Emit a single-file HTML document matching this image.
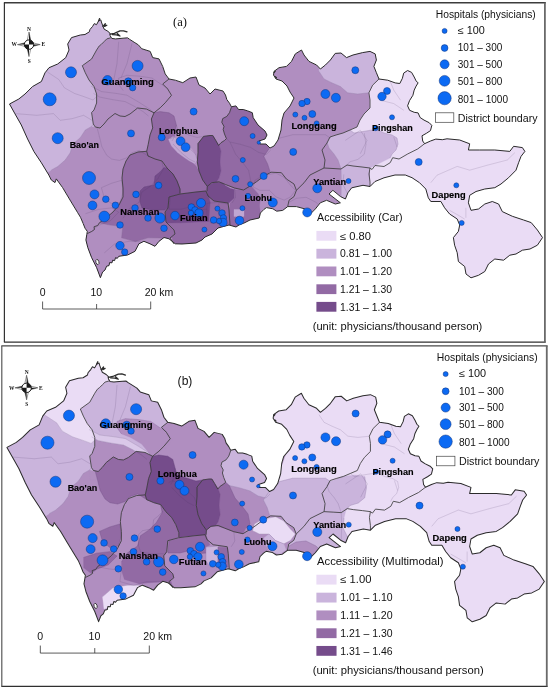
<!DOCTYPE html>
<html><head><meta charset="utf-8"><title>Accessibility maps</title>
<style>
html,body{margin:0;padding:0;background:#fff;}
svg{display:block}
text{font-family:"Liberation Sans",sans-serif;fill:#111}
.lb{font-weight:bold;font-size:9.6px;fill:#000;stroke:#000;stroke-width:0.15px}
.lg{font-size:10px}
.sb{font-size:10.5px}
.cp{font-family:"Liberation Serif",serif;font-size:5.4px;font-weight:bold}
.pl{font-family:"Liberation Serif",serif;font-size:12.6px}
.pl2{font-size:12px}
</style></head><body>
<svg width="550" height="689" viewBox="0 0 550 689">
<rect width="550" height="689" fill="#fff"/>
<g>
<rect x="4.4" y="2.8" width="540.5" height="339.3" fill="#fff"/>
<line x1="3.9000000000000004" y1="2.8" x2="545.8" y2="2.8" stroke="#3c3c3c" stroke-width="1.4"/>
<line x1="3.9000000000000004" y1="342.1" x2="545.8" y2="342.1" stroke="#303030" stroke-width="1.3"/>
<line x1="4.4" y1="2.8" x2="4.4" y2="342.1" stroke="#333" stroke-width="1.2"/>
<line x1="544.9" y1="2.8" x2="544.9" y2="342.1" stroke="#6a6a6a" stroke-width="1.8"/>
<clipPath id="clipa"><polygon points="9.5,104.0 18.8,99.0 25.0,94.0 32.6,86.5 41.4,81.5 45.0,72.8 49.0,67.7 57.7,64.0 65.7,57.7 69.0,50.0 67.7,44.0 71.5,37.6 80.3,35.0 85.0,34.5 89.4,31.8 89.9,29.6 92.6,26.4 94.3,23.6 96.5,24.7 98.6,20.9 100.8,19.8 101.4,22.0 103.0,26.4 104.1,29.1 107.9,31.3 110.1,33.4 110.1,35.6 111.7,38.4 115.5,38.9 121.0,38.4 127.5,37.8 129.7,39.4 134.1,42.2 138.4,44.9 141.7,48.7 150.2,51.4 152.7,57.6 159.0,58.9 162.7,66.4 165.2,73.9 169.0,79.0 175.3,80.2 182.8,82.7 190.0,78.0 196.0,77.0 199.0,85.0 205.0,88.0 210.0,94.0 215.0,89.0 223.0,91.0 225.5,95.0 226.8,99.5 229.5,103.2 231.4,106.8 235.9,105.9 238.6,109.5 243.2,109.5 247.7,110.9 252.3,112.7 253.2,117.7 258.0,125.0 265.0,131.0 267.0,135.0 265.0,139.0 259.0,141.0 260.0,144.0 266.0,144.0 270.0,148.0 274.0,146.0 278.0,140.0 281.0,130.0 282.0,120.0 284.0,113.0 290.0,106.0 294.0,98.0 290.0,92.0 287.0,86.0 282.0,81.0 276.0,79.0 273.5,75.0 274.0,71.4 279.0,67.7 286.5,66.4 291.5,61.4 295.3,53.9 301.5,50.0 304.0,55.0 309.0,61.4 316.6,65.0 320.4,69.0 325.4,65.0 330.4,60.0 335.2,53.4 341.0,53.0 346.5,57.6 353.0,55.0 362.6,52.6 370.0,51.4 375.2,53.9 376.4,60.0 373.9,66.4 376.4,72.7 379.0,79.0 387.7,80.2 395.2,82.9 399.8,83.5 402.4,78.3 403.7,73.1 407.6,70.5 411.6,72.4 414.2,77.0 416.1,80.9 418.1,82.9 416.1,86.1 414.2,90.1 412.9,95.3 409.6,100.5 407.6,105.8 409.6,110.3 414.2,112.3 418.1,112.9 420.1,117.5 424.0,120.1 429.2,122.7 431.8,125.4 430.5,130.6 426.6,133.2 422.0,135.8 422.7,141.0 424.6,143.7 430.5,141.0 435.8,139.1 442.3,139.7 447.0,138.8 459.7,140.0 469.7,143.8 468.4,150.0 479.7,150.0 494.8,150.0 509.8,151.4 513.6,146.3 522.4,147.6 524.9,151.4 521.0,156.4 518.6,162.7 516.0,170.2 508.6,177.7 501.0,184.0 494.8,187.7 484.8,189.0 476.0,191.5 469.7,195.3 468.4,202.8 471.0,210.3 478.5,209.0 484.8,204.0 492.3,201.5 498.6,204.0 502.3,211.6 512.4,216.3 523.6,220.0 531.2,222.6 537.4,230.0 542.5,237.6 537.4,245.2 530.0,249.0 522.4,250.2 516.0,254.0 509.8,255.2 503.6,260.2 494.8,259.0 488.5,264.0 484.8,271.5 478.5,275.3 471.0,277.8 466.0,274.0 464.7,266.5 458.4,261.5 457.2,252.7 454.6,245.2 453.4,237.6 458.4,231.4 459.7,225.0 457.2,219.0 449.6,214.0 444.6,207.8 440.9,201.5 430.8,201.5 428.3,197.8 425.8,189.0 419.5,182.7 412.0,177.7 405.3,175.0 395.0,175.0 384.0,177.8 375.0,181.5 370.0,186.5 363.0,185.3 351.7,187.8 347.9,192.8 345.4,199.0 340.4,196.5 332.9,190.3 329.0,194.0 340.4,202.8 335.3,204.0 326.6,200.3 320.3,202.8 315.3,209.0 309.0,215.4 305.2,209.0 296.4,206.6 287.7,206.6 282.7,210.4 276.7,211.2 272.9,208.8 266.5,207.6 264.0,209.3 260.4,213.0 259.2,218.0 250.0,220.0 243.6,223.3 240.0,224.4 236.0,227.0 229.0,225.0 218.0,228.0 212.0,234.0 205.0,237.0 202.0,240.0 196.0,243.0 182.0,244.0 175.3,243.8 169.0,238.8 164.0,237.5 159.0,241.3 155.0,246.3 150.0,243.8 143.9,241.3 138.9,243.8 135.0,251.3 127.6,255.0 118.8,256.3 117.2,258.4 115.6,257.6 114.6,260.6 112.6,260.2 112.0,262.8 109.6,262.6 109.0,265.6 106.6,266.2 105.0,270.0 102.6,272.0 100.4,277.7 96.6,267.6 91.6,257.6 87.8,247.6 85.9,240.0 86.8,234.5 87.3,231.4 85.0,228.2 83.2,223.6 80.5,217.3 77.7,212.7 70.0,200.0 62.6,187.6 56.3,178.9 55.0,182.6 51.3,180.0 48.8,175.0 41.4,162.8 33.9,151.5 27.6,139.0 21.3,125.0 15.0,113.9"/></clipPath>
<g clip-path="url(#clipa)">
<polygon points="9.5,104.0 18.8,99.0 25.0,94.0 32.6,86.5 41.4,81.5 45.0,72.8 49.0,67.7 57.7,64.0 65.7,57.7 69.0,50.0 67.7,44.0 71.5,37.6 80.3,35.0 85.0,34.5 89.4,31.8 89.9,29.6 92.6,26.4 94.3,23.6 96.5,24.7 98.6,20.9 100.8,19.8 101.4,22.0 103.0,26.4 104.1,29.1 107.9,31.3 110.1,33.4 110.1,35.6 111.7,38.4 115.5,38.9 121.0,38.4 127.5,37.8 129.7,39.4 134.1,42.2 138.4,44.9 141.7,48.7 150.2,51.4 152.7,57.6 159.0,58.9 162.7,66.4 165.2,73.9 169.0,79.0 175.3,80.2 182.8,82.7 190.0,78.0 196.0,77.0 199.0,85.0 205.0,88.0 210.0,94.0 215.0,89.0 223.0,91.0 225.5,95.0 226.8,99.5 229.5,103.2 231.4,106.8 235.9,105.9 238.6,109.5 243.2,109.5 247.7,110.9 252.3,112.7 253.2,117.7 258.0,125.0 265.0,131.0 267.0,135.0 265.0,139.0 259.0,141.0 260.0,144.0 266.0,144.0 270.0,148.0 274.0,146.0 278.0,140.0 281.0,130.0 282.0,120.0 284.0,113.0 290.0,106.0 294.0,98.0 290.0,92.0 287.0,86.0 282.0,81.0 276.0,79.0 273.5,75.0 274.0,71.4 279.0,67.7 286.5,66.4 291.5,61.4 295.3,53.9 301.5,50.0 304.0,55.0 309.0,61.4 316.6,65.0 320.4,69.0 325.4,65.0 330.4,60.0 335.2,53.4 341.0,53.0 346.5,57.6 353.0,55.0 362.6,52.6 370.0,51.4 375.2,53.9 376.4,60.0 373.9,66.4 376.4,72.7 379.0,79.0 387.7,80.2 395.2,82.9 399.8,83.5 402.4,78.3 403.7,73.1 407.6,70.5 411.6,72.4 414.2,77.0 416.1,80.9 418.1,82.9 416.1,86.1 414.2,90.1 412.9,95.3 409.6,100.5 407.6,105.8 409.6,110.3 414.2,112.3 418.1,112.9 420.1,117.5 424.0,120.1 429.2,122.7 431.8,125.4 430.5,130.6 426.6,133.2 422.0,135.8 422.7,141.0 424.6,143.7 430.5,141.0 435.8,139.1 442.3,139.7 447.0,138.8 459.7,140.0 469.7,143.8 468.4,150.0 479.7,150.0 494.8,150.0 509.8,151.4 513.6,146.3 522.4,147.6 524.9,151.4 521.0,156.4 518.6,162.7 516.0,170.2 508.6,177.7 501.0,184.0 494.8,187.7 484.8,189.0 476.0,191.5 469.7,195.3 468.4,202.8 471.0,210.3 478.5,209.0 484.8,204.0 492.3,201.5 498.6,204.0 502.3,211.6 512.4,216.3 523.6,220.0 531.2,222.6 537.4,230.0 542.5,237.6 537.4,245.2 530.0,249.0 522.4,250.2 516.0,254.0 509.8,255.2 503.6,260.2 494.8,259.0 488.5,264.0 484.8,271.5 478.5,275.3 471.0,277.8 466.0,274.0 464.7,266.5 458.4,261.5 457.2,252.7 454.6,245.2 453.4,237.6 458.4,231.4 459.7,225.0 457.2,219.0 449.6,214.0 444.6,207.8 440.9,201.5 430.8,201.5 428.3,197.8 425.8,189.0 419.5,182.7 412.0,177.7 405.3,175.0 395.0,175.0 384.0,177.8 375.0,181.5 370.0,186.5 363.0,185.3 351.7,187.8 347.9,192.8 345.4,199.0 340.4,196.5 332.9,190.3 329.0,194.0 340.4,202.8 335.3,204.0 326.6,200.3 320.3,202.8 315.3,209.0 309.0,215.4 305.2,209.0 296.4,206.6 287.7,206.6 282.7,210.4 276.7,211.2 272.9,208.8 266.5,207.6 264.0,209.3 260.4,213.0 259.2,218.0 250.0,220.0 243.6,223.3 240.0,224.4 236.0,227.0 229.0,225.0 218.0,228.0 212.0,234.0 205.0,237.0 202.0,240.0 196.0,243.0 182.0,244.0 175.3,243.8 169.0,238.8 164.0,237.5 159.0,241.3 155.0,246.3 150.0,243.8 143.9,241.3 138.9,243.8 135.0,251.3 127.6,255.0 118.8,256.3 117.2,258.4 115.6,257.6 114.6,260.6 112.6,260.2 112.0,262.8 109.6,262.6 109.0,265.6 106.6,266.2 105.0,270.0 102.6,272.0 100.4,277.7 96.6,267.6 91.6,257.6 87.8,247.6 85.9,240.0 86.8,234.5 87.3,231.4 85.0,228.2 83.2,223.6 80.5,217.3 77.7,212.7 70.0,200.0 62.6,187.6 56.3,178.9 55.0,182.6 51.3,180.0 48.8,175.0 41.4,162.8 33.9,151.5 27.6,139.0 21.3,125.0 15.0,113.9" fill="#B08EC0"/>
<polygon points="0.0,15.0 110.6,15.0 110.6,37.8 106.8,38.9 104.1,41.6 101.4,44.3 99.2,46.0 96.6,50.0 91.6,59.0 82.3,65.7 85.3,72.8 89.0,80.0 94.0,86.5 96.6,94.0 96.6,103.0 94.0,110.0 91.6,112.6 93.3,124.0 95.3,127.0 91.6,126.4 85.3,130.0 80.3,137.7 72.8,144.0 70.2,152.8 65.2,160.0 57.7,166.6 51.4,170.0 40.0,178.0 0.0,178.0" fill="#CAB4DC" stroke="#CAB4DC" stroke-width="0.3"/>
<polygon points="154.0,112.8 160.0,111.6 169.0,112.8 174.0,116.0 176.4,125.0 174.0,137.6 172.0,141.0 182.0,152.0 190.0,160.0 196.0,166.0 199.0,171.0 202.7,180.0 207.3,186.4 207.0,191.5 196.0,192.0 180.0,193.5 180.0,193.5 180.0,189.0 177.0,181.0 173.0,174.0 167.0,168.0 162.0,161.0 155.0,159.0 148.0,156.0 146.7,151.3 146.7,151.3 148.2,144.5 150.0,135.0 152.7,127.9 151.4,119.0 154.0,112.8" fill="#926AA4" stroke="#926AA4" stroke-width="0.3"/>
<polygon points="168.5,139.5 173.0,136.5 179.5,138.5 187.0,143.5 192.0,149.5 196.0,155.5 197.0,161.0 194.5,163.5 189.5,161.0 183.5,157.0 177.5,152.5 171.5,146.0" fill="#C0A6D2" stroke="#C0A6D2" stroke-width="0.3"/>
<polygon points="231.4,100.0 231.4,107.3 229.5,112.7 226.8,116.4 222.7,118.6 221.8,122.3 224.0,126.4 223.2,129.5 224.5,134.0 226.4,138.6 224.5,140.5 221.0,142.7 218.6,145.5 221.0,151.0 220.0,162.0 221.0,171.0 219.0,178.0 216.4,182.0 225.5,184.5 234.5,188.0 243.6,190.0 251.0,185.5 256.4,181.8 263.6,176.4 268.0,174.0 270.0,171.5 267.6,164.0 263.8,156.4 268.9,148.9 268.0,100.0" fill="#926AA4" stroke="#926AA4" stroke-width="0.3"/>
<polygon points="203.6,136.4 210.0,135.5 213.0,135.5 215.5,140.0 219.0,145.5 221.0,151.0 220.0,162.0 221.0,171.0 219.0,178.0 216.4,182.0 212.0,182.7 207.3,186.4 202.7,180.0 199.0,171.0 197.3,162.0 198.0,152.7 198.0,143.6" fill="#754C8B" stroke="#754C8B" stroke-width="0.3"/>
<polygon points="207.3,186.4 211.5,183.5 216.9,182.0 222.4,183.0 226.0,186.0 230.5,188.5 234.5,189.5 234.5,198.0 230.5,201.5 228.7,203.3 222.4,203.0 214.0,201.0 208.0,196.0 207.0,191.0" fill="#754C8B" stroke="#754C8B" stroke-width="0.3"/>
<polygon points="169.0,197.0 180.0,194.0 196.0,192.0 206.0,191.0 208.0,196.0 214.0,201.0 228.0,203.0 229.0,210.0 230.0,225.0 230.0,255.0 170.0,255.0 174.0,244.0 170.0,238.0 175.0,234.0 174.0,230.0 166.0,222.0 165.0,212.0 168.0,208.0 169.0,197.0" fill="#926AA4" stroke="#926AA4" stroke-width="0.3"/>
<polygon points="169.0,197.0 180.0,194.0 196.0,192.0 206.0,191.0 208.7,196.6 210.2,202.5 209.5,209.7 208.7,221.4 196.4,222.0 180.4,222.8 166.0,223.0 165.0,212.0 168.0,208.0" fill="#754C8B" stroke="#754C8B" stroke-width="0.3"/>
<polygon points="87.3,233.6 91.8,231.4 94.5,229.5 94.0,226.8 97.7,225.5 99.5,222.7 106.0,218.0 113.0,212.0 119.0,205.0 123.0,197.0 123.0,188.0 122.0,178.0 123.0,169.0 126.0,161.0 130.0,155.0 138.0,152.0 146.7,151.3 148.0,156.0 155.0,159.0 162.0,161.0 167.0,168.0 173.0,174.0 177.0,181.0 180.0,189.0 180.0,193.5 169.0,197.0 168.0,208.0 165.0,212.0 166.0,222.0 174.0,230.0 175.0,234.0 170.0,238.0 174.0,244.0 174.0,290.0 80.0,290.0 80.0,234.0" fill="#926AA4" stroke="#926AA4" stroke-width="0.3"/>
<polygon points="164.0,167.5 167.0,168.0 173.0,174.0 177.0,181.0 180.0,189.0 180.0,193.5 169.0,197.0 168.0,208.0 165.0,210.0 152.0,210.0 142.0,208.0 140.0,202.0 140.0,191.0 144.0,187.0 154.0,185.0 155.0,176.0 160.0,172.0" fill="#754C8B" stroke="#754C8B" stroke-width="0.3"/>
<polygon points="80.0,234.0 87.3,233.6 91.8,231.4 94.5,229.5 94.0,226.8 97.7,225.5 99.5,223.0 110.0,225.0 122.8,226.5 121.6,237.8 135.4,241.6 148.0,237.8 160.0,238.0 172.0,238.0 174.0,290.0 80.0,290.0" fill="#B08EC0" stroke="#B08EC0" stroke-width="0.3"/>
<polygon points="230.0,203.0 234.5,198.0 234.5,189.5 243.6,190.0 251.0,185.5 253.8,188.9 258.3,194.0 260.2,200.4 259.5,205.4 260.2,211.8 259.5,222.0 230.0,232.0 229.0,210.0" fill="#926AA4" stroke="#926AA4" stroke-width="0.3"/>
<polygon points="234.0,209.5 244.0,209.5 244.0,216.5 234.0,216.5" fill="#C0A6D2" stroke="#C0A6D2" stroke-width="0.3"/>
<polygon points="319.0,45.0 319.0,71.4 324.0,79.0 331.6,82.7 340.4,86.5 347.6,92.8 357.6,94.0 368.9,92.8 372.6,85.2 379.0,79.0 385.0,45.0" fill="#CAB4DC" stroke="#CAB4DC" stroke-width="0.3"/>
<polygon points="379.0,79.0 372.6,85.2 368.9,92.8 370.0,100.0 370.0,108.0 364.0,114.0 360.0,120.0 357.0,127.0 350.0,130.0 350.0,130.0 350.0,172.0 370.0,168.0 370.0,186.5 365.0,210.0 440.0,300.0 550.0,300.0 550.0,40.0 379.0,40.0" fill="#EADCF5" stroke="#EADCF5" stroke-width="0.3"/>
<polygon points="330.0,137.0 336.0,135.0 343.0,133.0 350.0,130.0 354.0,133.0 360.0,132.0 366.0,131.0 372.0,130.0 378.0,130.0 384.0,133.0 392.0,135.0 397.0,138.0 398.0,144.0 396.0,150.0 392.0,154.0 390.0,158.0 386.0,160.0 378.0,164.0 370.0,168.0 369.0,174.0 370.0,182.0 370.0,186.5 372.0,205.0 341.0,210.0 341.0,169.0 340.0,166.0 338.0,160.0 334.0,154.0 329.0,148.0 327.0,142.0" fill="#CAB4DC" stroke="#CAB4DC" stroke-width="0.3"/>
<polyline points="47.4,72.0 58.8,79.5 64.4,87.8 74.4,93.4 85.0,97.0 93.0,100.0 96.8,96.5" fill="none" stroke="#4b3560" stroke-opacity="0.28" stroke-width="0.55" stroke-linejoin="round"/>
<polyline points="15.0,113.6 36.8,115.3 53.5,113.6 60.2,120.3 72.0,118.7 83.6,115.3 92.0,120.3" fill="none" stroke="#4b3560" stroke-opacity="0.28" stroke-width="0.55" stroke-linejoin="round"/>
<polyline points="93.3,124.0 91.6,126.4 85.3,130.0 80.3,137.7 72.8,144.0 70.2,152.8 65.2,160.0 57.7,166.6 51.4,170.0" fill="none" stroke="#4b3560" stroke-opacity="0.28" stroke-width="0.55" stroke-linejoin="round"/>
<polyline points="90.9,86.1 101.6,91.6 116.1,93.4 126.9,95.2 139.5,102.6 150.4,109.6 153.9,113.3" fill="none" stroke="#4b3560" stroke-opacity="0.28" stroke-width="0.55" stroke-linejoin="round"/>
<polyline points="93.5,93.4 99.8,97.1 112.4,99.6 125.1,101.6 134.0,106.1 143.1,111.6 148.4,116.0" fill="none" stroke="#4b3560" stroke-opacity="0.28" stroke-width="0.55" stroke-linejoin="round"/>
<polyline points="123.2,90.6 118.7,84.3 118.7,78.1 126.9,75.3 139.5,76.2 152.1,78.1 161.1,84.3 168.2,88.6" fill="none" stroke="#4b3560" stroke-opacity="0.28" stroke-width="0.55" stroke-linejoin="round"/>
<polyline points="118.7,41.7 117.0,63.5 113.7,80.2" fill="none" stroke="#4b3560" stroke-opacity="0.28" stroke-width="0.55" stroke-linejoin="round"/>
<polyline points="132.0,43.4 127.0,63.5 121.0,78.0" fill="none" stroke="#4b3560" stroke-opacity="0.28" stroke-width="0.55" stroke-linejoin="round"/>
<polyline points="149.1,156.6 139.2,150.4 131.7,152.8 126.8,157.9 119.3,160.4 111.7,159.1 106.8,155.4 101.8,146.6 99.4,136.5 97.1,127.9" fill="none" stroke="#4b3560" stroke-opacity="0.28" stroke-width="0.55" stroke-linejoin="round"/>
<polyline points="154.0,112.8 160.0,111.6 169.0,112.8 174.0,116.0 176.4,125.0 174.0,137.6 172.0,141.0" fill="none" stroke="#4b3560" stroke-opacity="0.28" stroke-width="0.55" stroke-linejoin="round"/>
<polyline points="170.0,139.0 174.0,137.0 180.0,140.0 188.0,147.0 195.5,154.0 197.0,159.0" fill="none" stroke="#4b3560" stroke-opacity="0.28" stroke-width="0.55" stroke-linejoin="round"/>
<polyline points="173.0,144.0 181.0,152.5 189.0,159.0 195.0,162.0" fill="none" stroke="#4b3560" stroke-opacity="0.28" stroke-width="0.55" stroke-linejoin="round"/>
<polyline points="176.4,125.0 178.0,131.0 186.0,134.0 197.0,137.5 203.6,136.4" fill="none" stroke="#4b3560" stroke-opacity="0.28" stroke-width="0.55" stroke-linejoin="round"/>
<polyline points="164.0,167.5 160.0,172.0 155.0,176.0 154.0,185.0 144.0,187.0 140.0,191.0 140.0,202.0 142.0,208.0 152.0,210.0 165.0,210.0" fill="none" stroke="#4b3560" stroke-opacity="0.28" stroke-width="0.55" stroke-linejoin="round"/>
<polyline points="123.1,218.2 128.9,209.2 139.0,202.3 141.9,192.0 150.4,186.3 157.7,178.9 163.5,168.9 161.8,161.4" fill="none" stroke="#4b3560" stroke-opacity="0.28" stroke-width="0.55" stroke-linejoin="round"/>
<polyline points="99.5,223.0 110.0,225.0 122.8,226.5 121.6,237.8 135.4,241.6 148.0,237.8 160.0,238.0 170.0,238.0" fill="none" stroke="#4b3560" stroke-opacity="0.28" stroke-width="0.55" stroke-linejoin="round"/>
<polyline points="226.4,138.6 230.0,142.0 240.6,144.4 250.6,147.4 258.5,152.4 266.4,154.4 270.4,150.4" fill="none" stroke="#4b3560" stroke-opacity="0.28" stroke-width="0.55" stroke-linejoin="round"/>
<polyline points="230.0,142.0 235.7,154.4 242.6,162.4 248.6,170.4 250.6,180.3 246.6,184.3" fill="none" stroke="#4b3560" stroke-opacity="0.28" stroke-width="0.55" stroke-linejoin="round"/>
<polyline points="268.9,148.9 263.8,156.4 267.6,164.0 270.0,171.5" fill="none" stroke="#4b3560" stroke-opacity="0.28" stroke-width="0.55" stroke-linejoin="round"/>
<polyline points="319.0,71.4 324.0,79.0 331.6,82.7 340.4,86.5 347.6,92.8 357.6,94.0 368.9,92.8" fill="none" stroke="#4b3560" stroke-opacity="0.28" stroke-width="0.55" stroke-linejoin="round"/>
<polyline points="350.0,130.0 354.0,133.0 360.0,132.0 366.0,131.0 372.0,130.0 378.0,130.0 384.0,133.0 392.0,135.0 397.0,138.0 398.0,144.0 396.0,150.0 392.0,154.0 390.0,158.0" fill="none" stroke="#4b3560" stroke-opacity="0.28" stroke-width="0.55" stroke-linejoin="round"/>
<polyline points="330.0,137.0 327.0,142.0 329.0,148.0 334.0,154.0 338.0,160.0 340.0,166.0 341.0,169.0" fill="none" stroke="#4b3560" stroke-opacity="0.28" stroke-width="0.55" stroke-linejoin="round"/>
<polyline points="364.3,133.1 366.0,144.4 364.3,154.2 357.9,159.4 349.7,161.9 345.8,166.4" fill="none" stroke="#4b3560" stroke-opacity="0.28" stroke-width="0.55" stroke-linejoin="round"/>
<polyline points="268.9,148.9 279.9,138.0 292.9,134.7 309.1,134.7 325.4,134.7 330.3,138.0" fill="none" stroke="#4b3560" stroke-opacity="0.28" stroke-width="0.55" stroke-linejoin="round"/>
<polyline points="254.9,180.3 263.0,175.6 276.0,173.1 284.1,177.3 290.6,185.3 295.5,190.3 290.6,196.9 284.1,200.1 276.0,196.9 269.4,190.3 259.8,190.3 253.2,187.0 254.9,180.3" fill="none" stroke="#4b3560" stroke-opacity="0.28" stroke-width="0.55" stroke-linejoin="round"/>
<polyline points="341.0,169.0 341.5,180.0 341.0,200.0" fill="none" stroke="#4b3560" stroke-opacity="0.28" stroke-width="0.55" stroke-linejoin="round"/>
<polyline points="343.8,174.4 342.8,184.3 346.8,192.3 349.7,198.3" fill="none" stroke="#4b3560" stroke-opacity="0.28" stroke-width="0.55" stroke-linejoin="round"/>
<polyline points="289.2,202.3 296.2,198.3 306.1,197.3 316.0,202.3 320.0,206.2" fill="none" stroke="#4b3560" stroke-opacity="0.28" stroke-width="0.55" stroke-linejoin="round"/>
<polyline points="430.8,182.7 437.0,175.2 457.2,166.4 469.7,170.2 487.3,165.2 507.3,160.0 514.9,152.6" fill="none" stroke="#4b3560" stroke-opacity="0.28" stroke-width="0.55" stroke-linejoin="round"/>
<polyline points="449.6,210.3 458.4,215.3 464.7,219.1" fill="none" stroke="#4b3560" stroke-opacity="0.28" stroke-width="0.55" stroke-linejoin="round"/>
<polyline points="465.9,207.8 465.9,217.8" fill="none" stroke="#4b3560" stroke-opacity="0.28" stroke-width="0.55" stroke-linejoin="round"/>
<polyline points="380.4,100.2 393.8,103.6 403.8,110.3" fill="none" stroke="#4b3560" stroke-opacity="0.28" stroke-width="0.55" stroke-linejoin="round"/>
<polyline points="387.0,73.5 393.8,90.2 400.5,100.2" fill="none" stroke="#4b3560" stroke-opacity="0.28" stroke-width="0.55" stroke-linejoin="round"/>
<polyline points="345.3,140.4 360.3,130.3 367.0,140.4 360.3,153.7" fill="none" stroke="#4b3560" stroke-opacity="0.28" stroke-width="0.55" stroke-linejoin="round"/>
<polyline points="393.8,137.0 397.0,147.0" fill="none" stroke="#4b3560" stroke-opacity="0.28" stroke-width="0.55" stroke-linejoin="round"/>
<polyline points="207.0,191.0 208.0,196.0 214.0,201.0" fill="none" stroke="#4b3560" stroke-opacity="0.28" stroke-width="0.55" stroke-linejoin="round"/>
<polyline points="234.5,188.0 235.5,197.3 232.0,203.0" fill="none" stroke="#4b3560" stroke-opacity="0.28" stroke-width="0.55" stroke-linejoin="round"/>
<polyline points="170.2,197.3 169.2,209.2 181.1,209.2 189.1,207.2 197.0,210.2 206.9,209.2 206.9,203.3 218.8,202.3 228.7,204.3" fill="none" stroke="#4b3560" stroke-opacity="0.28" stroke-width="0.55" stroke-linejoin="round"/>
<polyline points="218.8,203.3 218.8,223.2" fill="none" stroke="#4b3560" stroke-opacity="0.28" stroke-width="0.55" stroke-linejoin="round"/>
<polyline points="206.9,209.2 206.9,217.2 210.9,223.2 229.1,223.2" fill="none" stroke="#4b3560" stroke-opacity="0.28" stroke-width="0.55" stroke-linejoin="round"/>
<polyline points="101.4,187.7 111.5,183.3 121.6,180.3 123.1,192.0 120.1,202.3 111.5,203.7 104.3,197.8 101.4,187.7" fill="none" stroke="#4b3560" stroke-opacity="0.28" stroke-width="0.55" stroke-linejoin="round"/>
<polyline points="85.5,213.7 98.5,209.4 111.5,207.9 118.7,212.2 110.1,221.0 98.5,225.4 92.9,229.7" fill="none" stroke="#4b3560" stroke-opacity="0.28" stroke-width="0.55" stroke-linejoin="round"/>
<polyline points="104.3,252.9 114.4,244.1 128.9,241.3 140.5,241.3" fill="none" stroke="#4b3560" stroke-opacity="0.28" stroke-width="0.55" stroke-linejoin="round"/>
</g>
<polyline points="110.6,37.8 106.8,38.9 104.1,41.6 101.4,44.3 99.2,46.0 96.6,50.0 91.6,59.0 82.3,65.7 85.3,72.8 89.0,80.0 94.0,86.5 96.6,94.0 96.6,103.0 94.0,110.0 91.6,112.6 93.3,124.0 95.3,127.0 100.0,128.0 104.0,124.0 108.0,119.0 115.0,113.5 120.0,116.0 125.0,116.5 130.0,114.0 137.6,108.0 146.4,109.0 154.0,112.8" fill="none" stroke="#3c3c3c" stroke-width="0.85" stroke-linejoin="round"/>
<polyline points="169.0,79.0 162.7,84.0 167.7,89.0 171.5,95.3 165.2,102.8 160.2,107.8 154.0,112.8" fill="none" stroke="#3c3c3c" stroke-width="0.85" stroke-linejoin="round"/>
<polyline points="154.0,112.8 151.4,119.0 152.7,127.9 150.0,135.0 148.2,144.5 146.7,151.3" fill="none" stroke="#3c3c3c" stroke-width="0.85" stroke-linejoin="round"/>
<polyline points="87.3,233.6 91.8,231.4 94.5,229.5 94.0,226.8 97.7,225.5 99.5,222.7 106.0,218.0 113.0,212.0 119.0,205.0 123.0,197.0 123.0,188.0 122.0,178.0 123.0,169.0 126.0,161.0 130.0,155.0 138.0,152.0 146.7,151.3" fill="none" stroke="#3c3c3c" stroke-width="0.85" stroke-linejoin="round"/>
<polyline points="146.7,151.3 148.0,156.0 155.0,159.0 162.0,161.0 167.0,168.0 173.0,174.0 177.0,181.0 180.0,189.0 180.0,193.5" fill="none" stroke="#3c3c3c" stroke-width="0.85" stroke-linejoin="round"/>
<polyline points="169.0,197.0 180.0,194.0 196.0,192.0 206.0,191.0 208.0,196.0 214.0,201.0 228.0,203.0 229.0,210.0 230.0,225.0" fill="none" stroke="#3c3c3c" stroke-width="0.85" stroke-linejoin="round"/>
<polyline points="169.0,197.0 168.0,208.0 165.0,212.0 166.0,222.0 174.0,230.0 175.0,234.0 170.0,238.0 174.0,244.0" fill="none" stroke="#3c3c3c" stroke-width="0.85" stroke-linejoin="round"/>
<polyline points="231.4,107.3 229.5,112.7 226.8,116.4 222.7,118.6 221.8,122.3 224.0,126.4 223.2,129.5 224.5,134.0 226.4,138.6 224.5,140.5 221.0,142.7 218.6,145.5 215.5,140.0 212.7,135.5 210.0,135.5 203.6,136.4 198.0,143.6 198.0,152.7 197.3,161.8 199.0,171.0 202.7,180.0 207.3,186.4 207.0,191.0" fill="none" stroke="#3c3c3c" stroke-width="0.85" stroke-linejoin="round"/>
<polyline points="207.3,186.4 211.8,182.7 219.0,181.8 225.5,184.5 234.5,188.0 243.6,190.0 251.0,185.5 256.4,181.8 263.6,176.4 271.0,172.2 281.4,172.7 286.4,179.0 294.0,184.0 296.4,190.3 294.0,196.6 289.0,200.3 287.7,206.6" fill="none" stroke="#3c3c3c" stroke-width="0.85" stroke-linejoin="round"/>
<polyline points="296.4,190.3 304.0,182.8 310.0,175.0 316.0,172.0 324.0,168.0 325.0,160.0 322.0,150.0 327.0,143.0 330.0,137.0" fill="none" stroke="#3c3c3c" stroke-width="0.85" stroke-linejoin="round"/>
<polyline points="330.0,137.0 336.0,135.0 343.0,133.0 350.0,130.0 357.0,127.0 360.0,120.0 364.0,114.0 370.0,108.0 370.0,100.0 368.9,92.8 372.6,85.2 379.0,79.0" fill="none" stroke="#3c3c3c" stroke-width="0.85" stroke-linejoin="round"/>
<polyline points="324.0,168.0 333.0,168.5 341.0,169.0 347.0,165.0 353.0,166.0 362.0,167.0 370.0,168.0" fill="none" stroke="#3c3c3c" stroke-width="0.85" stroke-linejoin="round"/>
<polyline points="370.0,168.0 369.0,174.0 370.0,182.0 370.0,186.5" fill="none" stroke="#3c3c3c" stroke-width="0.85" stroke-linejoin="round"/>
<polyline points="370.0,168.0 372.0,169.5 375.0,165.5 384.0,166.5 390.2,162.7 392.7,157.7 399.0,159.0 407.8,153.9 417.8,148.9 424.6,143.7" fill="none" stroke="#3c3c3c" stroke-width="0.85" stroke-linejoin="round"/>
<polygon points="9.5,104.0 18.8,99.0 25.0,94.0 32.6,86.5 41.4,81.5 45.0,72.8 49.0,67.7 57.7,64.0 65.7,57.7 69.0,50.0 67.7,44.0 71.5,37.6 80.3,35.0 85.0,34.5 89.4,31.8 89.9,29.6 92.6,26.4 94.3,23.6 96.5,24.7 98.6,20.9 100.8,19.8 101.4,22.0 103.0,26.4 104.1,29.1 107.9,31.3 110.1,33.4 110.1,35.6 111.7,38.4 115.5,38.9 121.0,38.4 127.5,37.8 129.7,39.4 134.1,42.2 138.4,44.9 141.7,48.7 150.2,51.4 152.7,57.6 159.0,58.9 162.7,66.4 165.2,73.9 169.0,79.0 175.3,80.2 182.8,82.7 190.0,78.0 196.0,77.0 199.0,85.0 205.0,88.0 210.0,94.0 215.0,89.0 223.0,91.0 225.5,95.0 226.8,99.5 229.5,103.2 231.4,106.8 235.9,105.9 238.6,109.5 243.2,109.5 247.7,110.9 252.3,112.7 253.2,117.7 258.0,125.0 265.0,131.0 267.0,135.0 265.0,139.0 259.0,141.0 260.0,144.0 266.0,144.0 270.0,148.0 274.0,146.0 278.0,140.0 281.0,130.0 282.0,120.0 284.0,113.0 290.0,106.0 294.0,98.0 290.0,92.0 287.0,86.0 282.0,81.0 276.0,79.0 273.5,75.0 274.0,71.4 279.0,67.7 286.5,66.4 291.5,61.4 295.3,53.9 301.5,50.0 304.0,55.0 309.0,61.4 316.6,65.0 320.4,69.0 325.4,65.0 330.4,60.0 335.2,53.4 341.0,53.0 346.5,57.6 353.0,55.0 362.6,52.6 370.0,51.4 375.2,53.9 376.4,60.0 373.9,66.4 376.4,72.7 379.0,79.0 387.7,80.2 395.2,82.9 399.8,83.5 402.4,78.3 403.7,73.1 407.6,70.5 411.6,72.4 414.2,77.0 416.1,80.9 418.1,82.9 416.1,86.1 414.2,90.1 412.9,95.3 409.6,100.5 407.6,105.8 409.6,110.3 414.2,112.3 418.1,112.9 420.1,117.5 424.0,120.1 429.2,122.7 431.8,125.4 430.5,130.6 426.6,133.2 422.0,135.8 422.7,141.0 424.6,143.7 430.5,141.0 435.8,139.1 442.3,139.7 447.0,138.8 459.7,140.0 469.7,143.8 468.4,150.0 479.7,150.0 494.8,150.0 509.8,151.4 513.6,146.3 522.4,147.6 524.9,151.4 521.0,156.4 518.6,162.7 516.0,170.2 508.6,177.7 501.0,184.0 494.8,187.7 484.8,189.0 476.0,191.5 469.7,195.3 468.4,202.8 471.0,210.3 478.5,209.0 484.8,204.0 492.3,201.5 498.6,204.0 502.3,211.6 512.4,216.3 523.6,220.0 531.2,222.6 537.4,230.0 542.5,237.6 537.4,245.2 530.0,249.0 522.4,250.2 516.0,254.0 509.8,255.2 503.6,260.2 494.8,259.0 488.5,264.0 484.8,271.5 478.5,275.3 471.0,277.8 466.0,274.0 464.7,266.5 458.4,261.5 457.2,252.7 454.6,245.2 453.4,237.6 458.4,231.4 459.7,225.0 457.2,219.0 449.6,214.0 444.6,207.8 440.9,201.5 430.8,201.5 428.3,197.8 425.8,189.0 419.5,182.7 412.0,177.7 405.3,175.0 395.0,175.0 384.0,177.8 375.0,181.5 370.0,186.5 363.0,185.3 351.7,187.8 347.9,192.8 345.4,199.0 340.4,196.5 332.9,190.3 329.0,194.0 340.4,202.8 335.3,204.0 326.6,200.3 320.3,202.8 315.3,209.0 309.0,215.4 305.2,209.0 296.4,206.6 287.7,206.6 282.7,210.4 276.7,211.2 272.9,208.8 266.5,207.6 264.0,209.3 260.4,213.0 259.2,218.0 250.0,220.0 243.6,223.3 240.0,224.4 236.0,227.0 229.0,225.0 218.0,228.0 212.0,234.0 205.0,237.0 202.0,240.0 196.0,243.0 182.0,244.0 175.3,243.8 169.0,238.8 164.0,237.5 159.0,241.3 155.0,246.3 150.0,243.8 143.9,241.3 138.9,243.8 135.0,251.3 127.6,255.0 118.8,256.3 117.2,258.4 115.6,257.6 114.6,260.6 112.6,260.2 112.0,262.8 109.6,262.6 109.0,265.6 106.6,266.2 105.0,270.0 102.6,272.0 100.4,277.7 96.6,267.6 91.6,257.6 87.8,247.6 85.9,240.0 86.8,234.5 87.3,231.4 85.0,228.2 83.2,223.6 80.5,217.3 77.7,212.7 70.0,200.0 62.6,187.6 56.3,178.9 55.0,182.6 51.3,180.0 48.8,175.0 41.4,162.8 33.9,151.5 27.6,139.0 21.3,125.0 15.0,113.9" fill="none" stroke="#2b2b2b" stroke-width="1" stroke-linejoin="round"/>
<ellipse cx="97.4" cy="262.0" rx="1.5" ry="2.6" fill="#fff" stroke="#2b2b2b" stroke-width="0.8" transform="rotate(-15 97.4 262.0)"/>
<polyline points="110.1,34.2 114.4,33.3 117.7,31.9 120.0,30.9 123.5,30.8 127.0,31.9" fill="none" stroke="#2b2b2b" stroke-width="1.3" stroke-linejoin="round" stroke-linecap="round"/>
<polyline points="117.2,33.6 119.9,36.0 116.4,34.9 112.3,34.6" fill="none" stroke="#2b2b2b" stroke-width="1.3" stroke-linejoin="round" stroke-linecap="round"/>
<polyline points="103.0,26.4 105.3,23.8 104.6,26.4 106.8,25.2" fill="none" stroke="#2b2b2b" stroke-width="1.3" stroke-linejoin="round" stroke-linecap="round"/>
<polyline points="98.6,20.9 99.6,18.6" fill="none" stroke="#2b2b2b" stroke-width="1.3" stroke-linejoin="round" stroke-linecap="round"/>
<polyline points="275.2,71.2 274.2,72.4" fill="none" stroke="#2b2b2b" stroke-width="1.3" stroke-linejoin="round" stroke-linecap="round"/>
<polyline points="275.2,76.6 276.4,77.8" fill="none" stroke="#2b2b2b" stroke-width="1.3" stroke-linejoin="round" stroke-linecap="round"/>
<circle cx="71.0" cy="72.3" r="5.5" fill="#0c6af3" stroke="#14357a" stroke-width="0.5"/>
<circle cx="49.7" cy="99.3" r="6.5" fill="#0c6af3" stroke="#14357a" stroke-width="0.5"/>
<circle cx="57.7" cy="138.2" r="5.5" fill="#0c6af3" stroke="#14357a" stroke-width="0.5"/>
<circle cx="137.6" cy="65.9" r="5.5" fill="#0c6af3" stroke="#14357a" stroke-width="0.5"/>
<circle cx="107.5" cy="80.2" r="4.7" fill="#0c6af3" stroke="#14357a" stroke-width="0.5"/>
<circle cx="128.3" cy="81.5" r="3.7" fill="#0c6af3" stroke="#14357a" stroke-width="0.5"/>
<circle cx="132.6" cy="87.7" r="3.2" fill="#0c6af3" stroke="#14357a" stroke-width="0.5"/>
<circle cx="131.0" cy="133.4" r="3.5" fill="#0c6af3" stroke="#14357a" stroke-width="0.5"/>
<circle cx="89.0" cy="178.0" r="6.5" fill="#0c6af3" stroke="#14357a" stroke-width="0.5"/>
<circle cx="94.5" cy="194.4" r="4.5" fill="#0c6af3" stroke="#14357a" stroke-width="0.5"/>
<circle cx="105.8" cy="199.2" r="3.3" fill="#0c6af3" stroke="#14357a" stroke-width="0.5"/>
<circle cx="92.5" cy="205.4" r="4.4" fill="#0c6af3" stroke="#14357a" stroke-width="0.5"/>
<circle cx="115.4" cy="205.3" r="3.3" fill="#0c6af3" stroke="#14357a" stroke-width="0.5"/>
<circle cx="104.3" cy="216.5" r="5.4" fill="#0c6af3" stroke="#14357a" stroke-width="0.5"/>
<circle cx="193.6" cy="111.6" r="3.5" fill="#0c6af3" stroke="#14357a" stroke-width="0.5"/>
<circle cx="161.7" cy="137.3" r="3.5" fill="#0c6af3" stroke="#14357a" stroke-width="0.5"/>
<circle cx="180.6" cy="141.2" r="4.4" fill="#0c6af3" stroke="#14357a" stroke-width="0.5"/>
<circle cx="185.6" cy="147.2" r="4.4" fill="#0c6af3" stroke="#14357a" stroke-width="0.5"/>
<circle cx="136.0" cy="194.4" r="3.3" fill="#0c6af3" stroke="#14357a" stroke-width="0.5"/>
<circle cx="135.0" cy="208.0" r="3.3" fill="#0c6af3" stroke="#14357a" stroke-width="0.5"/>
<circle cx="158.6" cy="185.4" r="3.3" fill="#0c6af3" stroke="#14357a" stroke-width="0.5"/>
<circle cx="120.0" cy="225.0" r="3.3" fill="#0c6af3" stroke="#14357a" stroke-width="0.5"/>
<circle cx="148.0" cy="218.0" r="3.3" fill="#0c6af3" stroke="#14357a" stroke-width="0.5"/>
<circle cx="160.0" cy="218.0" r="5.1" fill="#0c6af3" stroke="#14357a" stroke-width="0.5"/>
<circle cx="164.0" cy="228.3" r="3.3" fill="#0c6af3" stroke="#14357a" stroke-width="0.5"/>
<circle cx="175.0" cy="215.6" r="4.3" fill="#0c6af3" stroke="#14357a" stroke-width="0.5"/>
<circle cx="120.0" cy="245.6" r="4.2" fill="#0c6af3" stroke="#14357a" stroke-width="0.5"/>
<circle cx="124.7" cy="252.0" r="3.2" fill="#0c6af3" stroke="#14357a" stroke-width="0.5"/>
<circle cx="201.0" cy="203.0" r="4.5" fill="#0c6af3" stroke="#14357a" stroke-width="0.5"/>
<circle cx="191.4" cy="207.0" r="3.3" fill="#0c6af3" stroke="#14357a" stroke-width="0.5"/>
<circle cx="195.0" cy="210.0" r="3.3" fill="#0c6af3" stroke="#14357a" stroke-width="0.5"/>
<circle cx="199.0" cy="213.0" r="4.1" fill="#0c6af3" stroke="#14357a" stroke-width="0.5"/>
<circle cx="191.0" cy="213.0" r="2.7" fill="#0c6af3" stroke="#14357a" stroke-width="0.5"/>
<circle cx="217.4" cy="208.6" r="2.5" fill="#0c6af3" stroke="#14357a" stroke-width="0.5"/>
<circle cx="222.0" cy="213.0" r="3.3" fill="#0c6af3" stroke="#14357a" stroke-width="0.5"/>
<circle cx="223.4" cy="218.0" r="3.3" fill="#0c6af3" stroke="#14357a" stroke-width="0.5"/>
<circle cx="223.0" cy="222.4" r="4.1" fill="#0c6af3" stroke="#14357a" stroke-width="0.5"/>
<circle cx="219.0" cy="221.0" r="2.7" fill="#0c6af3" stroke="#14357a" stroke-width="0.5"/>
<circle cx="213.6" cy="220.0" r="3.3" fill="#0c6af3" stroke="#14357a" stroke-width="0.5"/>
<circle cx="204.4" cy="229.6" r="2.5" fill="#0c6af3" stroke="#14357a" stroke-width="0.5"/>
<circle cx="239.5" cy="220.5" r="4.3" fill="#0c6af3" stroke="#14357a" stroke-width="0.5"/>
<circle cx="242.4" cy="208.2" r="2.5" fill="#0c6af3" stroke="#14357a" stroke-width="0.5"/>
<circle cx="248.0" cy="196.0" r="2.7" fill="#0c6af3" stroke="#14357a" stroke-width="0.5"/>
<circle cx="272.8" cy="202.5" r="4.5" fill="#0c6af3" stroke="#14357a" stroke-width="0.5"/>
<circle cx="263.7" cy="176.0" r="3.5" fill="#0c6af3" stroke="#14357a" stroke-width="0.5"/>
<circle cx="250.2" cy="184.2" r="2.5" fill="#0c6af3" stroke="#14357a" stroke-width="0.5"/>
<circle cx="244.2" cy="121.2" r="4.5" fill="#0c6af3" stroke="#14357a" stroke-width="0.5"/>
<circle cx="252.6" cy="136.0" r="2.5" fill="#0c6af3" stroke="#14357a" stroke-width="0.5"/>
<circle cx="258.8" cy="142.6" r="1.7" fill="#0c6af3" stroke="#14357a" stroke-width="0.5"/>
<circle cx="242.8" cy="160.0" r="2.5" fill="#0c6af3" stroke="#14357a" stroke-width="0.5"/>
<circle cx="235.5" cy="178.8" r="3.4" fill="#0c6af3" stroke="#14357a" stroke-width="0.5"/>
<circle cx="325.4" cy="94.0" r="4.5" fill="#0c6af3" stroke="#14357a" stroke-width="0.5"/>
<circle cx="335.9" cy="97.8" r="4.5" fill="#0c6af3" stroke="#14357a" stroke-width="0.5"/>
<circle cx="307.0" cy="101.5" r="3.2" fill="#0c6af3" stroke="#14357a" stroke-width="0.5"/>
<circle cx="302.0" cy="103.5" r="3.2" fill="#0c6af3" stroke="#14357a" stroke-width="0.5"/>
<circle cx="295.3" cy="114.6" r="2.5" fill="#0c6af3" stroke="#14357a" stroke-width="0.5"/>
<circle cx="304.5" cy="117.8" r="2.5" fill="#0c6af3" stroke="#14357a" stroke-width="0.5"/>
<circle cx="312.3" cy="114.0" r="3.5" fill="#0c6af3" stroke="#14357a" stroke-width="0.5"/>
<circle cx="316.6" cy="123.4" r="2.5" fill="#0c6af3" stroke="#14357a" stroke-width="0.5"/>
<circle cx="355.3" cy="70.2" r="3.5" fill="#0c6af3" stroke="#14357a" stroke-width="0.5"/>
<circle cx="293.2" cy="151.9" r="3.5" fill="#0c6af3" stroke="#14357a" stroke-width="0.5"/>
<circle cx="387.0" cy="91.0" r="3.5" fill="#0c6af3" stroke="#14357a" stroke-width="0.5"/>
<circle cx="382.0" cy="96.5" r="4.2" fill="#0c6af3" stroke="#14357a" stroke-width="0.5"/>
<circle cx="392.0" cy="117.3" r="2.5" fill="#0c6af3" stroke="#14357a" stroke-width="0.5"/>
<circle cx="375.6" cy="128.2" r="2.5" fill="#0c6af3" stroke="#14357a" stroke-width="0.5"/>
<circle cx="317.3" cy="188.3" r="4.5" fill="#0c6af3" stroke="#14357a" stroke-width="0.5"/>
<circle cx="348.5" cy="181.0" r="2.5" fill="#0c6af3" stroke="#14357a" stroke-width="0.5"/>
<circle cx="307.2" cy="212.4" r="4.5" fill="#0c6af3" stroke="#14357a" stroke-width="0.5"/>
<circle cx="418.7" cy="162.0" r="3.5" fill="#0c6af3" stroke="#14357a" stroke-width="0.5"/>
<circle cx="456.3" cy="185.3" r="2.5" fill="#0c6af3" stroke="#14357a" stroke-width="0.5"/>
<circle cx="461.7" cy="222.9" r="2.5" fill="#0c6af3" stroke="#14357a" stroke-width="0.5"/>
<text x="101.3" y="84.6" class="lb" textLength="52.6" lengthAdjust="spacingAndGlyphs">Guangming</text>
<text x="69.7" y="147.8" class="lb" textLength="29.3" lengthAdjust="spacingAndGlyphs">Bao&#39;an</text>
<text x="159.0" y="133.6" class="lb" textLength="38.8" lengthAdjust="spacingAndGlyphs">Longhua</text>
<text x="120.3" y="215.3" class="lb" textLength="39.0" lengthAdjust="spacingAndGlyphs">Nanshan</text>
<text x="180.0" y="221.2" class="lb" textLength="27.6" lengthAdjust="spacingAndGlyphs">Futian</text>
<text x="244.5" y="201.4" class="lb" textLength="27.5" lengthAdjust="spacingAndGlyphs">Luohu</text>
<text x="291.4" y="128.8" class="lb" textLength="45.2" lengthAdjust="spacingAndGlyphs">Longgang</text>
<text x="372.1" y="131.1" class="lb" textLength="40.7" lengthAdjust="spacingAndGlyphs">Pingshan</text>
<text x="313.3" y="184.6" class="lb" textLength="32.7" lengthAdjust="spacingAndGlyphs">Yantian</text>
<text x="431.6" y="197.6" class="lb" textLength="34.0" lengthAdjust="spacingAndGlyphs">Dapeng</text>
<g transform="translate(29.0,44.6)">
<polygon points="0,-12.6 2.2,-2.2 11.2,0 2.2,2.2 0,12 -2.2,2.2 -11.6,0 -2.2,-2.2" fill="#fff" stroke="#222" stroke-width="0.45"/>
<polygon points="0,-12.6 2.2,-2.2 0,0" fill="#1a1a1a"/><polygon points="11.2,0 2.2,2.2 0,0" fill="#1a1a1a"/><polygon points="0,12 -2.2,2.2 0,0" fill="#1a1a1a"/><polygon points="-11.6,0 -2.2,-2.2 0,0" fill="#1a1a1a"/>
<circle r="4.7" fill="#fff" stroke="#111" stroke-width="0.95"/><path d="M0,0 L0,-4.7 A4.7,4.7 0 0 1 4.7,0 Z M0,0 L0,4.7 A4.7,4.7 0 0 1 -4.7,0 Z" fill="#1a1a1a"/>
<text class="cp" x="0" y="-13.9" text-anchor="middle">N</text><text class="cp" x="0.2" y="18" text-anchor="middle">S</text><text class="cp" x="-14.8" y="1.7" text-anchor="middle">W</text><text class="cp" x="14.2" y="1.7" text-anchor="middle">E</text>
</g>
<text x="180" y="26.1" class="pl" text-anchor="middle">(a)</text>
<path d="M42.6,301.5 V309.0 H150.7 V301.5 M96.6,304.0 V309.0" fill="none" stroke="#333" stroke-width="0.8"/>
<text class="sb" x="42.6" y="295.7" text-anchor="middle">0</text><text class="sb" x="96.3" y="295.7" text-anchor="middle">10</text><text class="sb" x="144.7" y="295.7">20 km</text>
<text class="lg" x="435.8" y="17.7" textLength="100" lengthAdjust="spacingAndGlyphs">Hospitals (physicians)</text>
<circle cx="444.6" cy="30.9" r="2.5" fill="#0c6af3" stroke="#14357a" stroke-width="0.5"/>
<text class="lg" x="457.8" y="34.3" textLength="27" lengthAdjust="spacingAndGlyphs">≤ 100</text>
<circle cx="444.6" cy="48.0" r="3.4" fill="#0c6af3" stroke="#14357a" stroke-width="0.5"/>
<text class="lg" x="457.8" y="51.3" textLength="44.5" lengthAdjust="spacingAndGlyphs">101 – 300</text>
<circle cx="444.6" cy="64.3" r="4.5" fill="#0c6af3" stroke="#14357a" stroke-width="0.5"/>
<text class="lg" x="457.8" y="68.0" textLength="44.5" lengthAdjust="spacingAndGlyphs">301 – 500</text>
<circle cx="444.6" cy="80.8" r="5.4" fill="#0c6af3" stroke="#14357a" stroke-width="0.5"/>
<text class="lg" x="457.8" y="84.8" textLength="44.5" lengthAdjust="spacingAndGlyphs">501 – 800</text>
<circle cx="444.6" cy="98.2" r="6.6" fill="#0c6af3" stroke="#14357a" stroke-width="0.5"/>
<text class="lg" x="457.8" y="103.0" textLength="50.2" lengthAdjust="spacingAndGlyphs">801 – 1000</text>
<rect x="435.4" y="112.8" width="18.4" height="9.5" fill="#fff" stroke="#444" stroke-width="0.7"/>
<text class="lg" x="457.8" y="121.5" textLength="79.7" lengthAdjust="spacingAndGlyphs">District boundary</text>
<text class="lg" x="317" y="221.0" textLength="85.5" lengthAdjust="spacingAndGlyphs">Accessibility (Car)</text>
<rect x="316.4" y="230.9" width="20" height="9.8" fill="#EADCF5"/>
<text class="lg" x="340" y="239.5" textLength="31" lengthAdjust="spacingAndGlyphs">≤ 0.80</text>
<rect x="316.4" y="248.8" width="20" height="9.8" fill="#CAB4DC"/>
<text class="lg" x="340" y="257.4" textLength="52" lengthAdjust="spacingAndGlyphs">0.81 – 1.00</text>
<rect x="316.4" y="266.5" width="20" height="9.8" fill="#B08EC0"/>
<text class="lg" x="340" y="275.1" textLength="52" lengthAdjust="spacingAndGlyphs">1.01 – 1.20</text>
<rect x="316.4" y="284.3" width="20" height="9.8" fill="#926AA4"/>
<text class="lg" x="340" y="292.9" textLength="52" lengthAdjust="spacingAndGlyphs">1.21 – 1.30</text>
<rect x="316.4" y="301.9" width="20" height="9.8" fill="#754C8B"/>
<text class="lg" x="340" y="310.5" textLength="52" lengthAdjust="spacingAndGlyphs">1.31 – 1.34</text>
<text class="lg" x="312.7" y="330.0" textLength="169.6" lengthAdjust="spacingAndGlyphs">(unit: physicians/thousand person)</text>
</g>
<g transform="translate(-2.64,343.09) scale(1.0083,1.0032)">
<rect x="4.4" y="2.8" width="540.5" height="339.3" fill="#fff"/>
<line x1="3.9000000000000004" y1="2.8" x2="545.8" y2="2.8" stroke="#484848" stroke-width="1.4"/>
<line x1="3.9000000000000004" y1="342.1" x2="545.8" y2="342.1" stroke="#303030" stroke-width="1.3"/>
<line x1="4.4" y1="2.8" x2="4.4" y2="342.1" stroke="#5a5a5a" stroke-width="1.2"/>
<line x1="544.9" y1="2.8" x2="544.9" y2="342.1" stroke="#6a6a6a" stroke-width="1.8"/>
<clipPath id="clipb"><polygon points="9.5,104.0 18.8,99.0 25.0,94.0 32.6,86.5 41.4,81.5 45.0,72.8 49.0,67.7 57.7,64.0 65.7,57.7 69.0,50.0 67.7,44.0 71.5,37.6 80.3,35.0 85.0,34.5 89.4,31.8 89.9,29.6 92.6,26.4 94.3,23.6 96.5,24.7 98.6,20.9 100.8,19.8 101.4,22.0 103.0,26.4 104.1,29.1 107.9,31.3 110.1,33.4 110.1,35.6 111.7,38.4 115.5,38.9 121.0,38.4 127.5,37.8 129.7,39.4 134.1,42.2 138.4,44.9 141.7,48.7 150.2,51.4 152.7,57.6 159.0,58.9 162.7,66.4 165.2,73.9 169.0,79.0 175.3,80.2 182.8,82.7 190.0,78.0 196.0,77.0 199.0,85.0 205.0,88.0 210.0,94.0 215.0,89.0 223.0,91.0 225.5,95.0 226.8,99.5 229.5,103.2 231.4,106.8 235.9,105.9 238.6,109.5 243.2,109.5 247.7,110.9 252.3,112.7 253.2,117.7 258.0,125.0 265.0,131.0 267.0,135.0 265.0,139.0 259.0,141.0 260.0,144.0 266.0,144.0 270.0,148.0 274.0,146.0 278.0,140.0 281.0,130.0 282.0,120.0 284.0,113.0 290.0,106.0 294.0,98.0 290.0,92.0 287.0,86.0 282.0,81.0 276.0,79.0 273.5,75.0 274.0,71.4 279.0,67.7 286.5,66.4 291.5,61.4 295.3,53.9 301.5,50.0 304.0,55.0 309.0,61.4 316.6,65.0 320.4,69.0 325.4,65.0 330.4,60.0 335.2,53.4 341.0,53.0 346.5,57.6 353.0,55.0 362.6,52.6 370.0,51.4 375.2,53.9 376.4,60.0 373.9,66.4 376.4,72.7 379.0,79.0 387.7,80.2 395.2,82.9 399.8,83.5 402.4,78.3 403.7,73.1 407.6,70.5 411.6,72.4 414.2,77.0 416.1,80.9 418.1,82.9 416.1,86.1 414.2,90.1 412.9,95.3 409.6,100.5 407.6,105.8 409.6,110.3 414.2,112.3 418.1,112.9 420.1,117.5 424.0,120.1 429.2,122.7 431.8,125.4 430.5,130.6 426.6,133.2 422.0,135.8 422.7,141.0 424.6,143.7 430.5,141.0 435.8,139.1 442.3,139.7 447.0,138.8 459.7,140.0 469.7,143.8 468.4,150.0 479.7,150.0 494.8,150.0 509.8,151.4 513.6,146.3 522.4,147.6 524.9,151.4 521.0,156.4 518.6,162.7 516.0,170.2 508.6,177.7 501.0,184.0 494.8,187.7 484.8,189.0 476.0,191.5 469.7,195.3 468.4,202.8 471.0,210.3 478.5,209.0 484.8,204.0 492.3,201.5 498.6,204.0 502.3,211.6 512.4,216.3 523.6,220.0 531.2,222.6 537.4,230.0 542.5,237.6 537.4,245.2 530.0,249.0 522.4,250.2 516.0,254.0 509.8,255.2 503.6,260.2 494.8,259.0 488.5,264.0 484.8,271.5 478.5,275.3 471.0,277.8 466.0,274.0 464.7,266.5 458.4,261.5 457.2,252.7 454.6,245.2 453.4,237.6 458.4,231.4 459.7,225.0 457.2,219.0 449.6,214.0 444.6,207.8 440.9,201.5 430.8,201.5 428.3,197.8 425.8,189.0 419.5,182.7 412.0,177.7 405.3,175.0 395.0,175.0 384.0,177.8 375.0,181.5 370.0,186.5 363.0,185.3 351.7,187.8 347.9,192.8 345.4,199.0 340.4,196.5 332.9,190.3 329.0,194.0 340.4,202.8 335.3,204.0 326.6,200.3 320.3,202.8 315.3,209.0 309.0,215.4 305.2,209.0 296.4,206.6 287.7,206.6 282.7,210.4 276.7,211.2 272.9,208.8 266.5,207.6 264.0,209.3 260.4,213.0 259.2,218.0 250.0,220.0 243.6,223.3 240.0,224.4 236.0,227.0 229.0,225.0 218.0,228.0 212.0,234.0 205.0,237.0 202.0,240.0 196.0,243.0 182.0,244.0 175.3,243.8 169.0,238.8 164.0,237.5 159.0,241.3 155.0,246.3 150.0,243.8 143.9,241.3 138.9,243.8 135.0,251.3 127.6,255.0 118.8,256.3 117.2,258.4 115.6,257.6 114.6,260.6 112.6,260.2 112.0,262.8 109.6,262.6 109.0,265.6 106.6,266.2 105.0,270.0 102.6,272.0 100.4,277.7 96.6,267.6 91.6,257.6 87.8,247.6 85.9,240.0 86.8,234.5 87.3,231.4 85.0,228.2 83.2,223.6 80.5,217.3 77.7,212.7 70.0,200.0 62.6,187.6 56.3,178.9 55.0,182.6 51.3,180.0 48.8,175.0 41.4,162.8 33.9,151.5 27.6,139.0 21.3,125.0 15.0,113.9"/></clipPath>
<g clip-path="url(#clipb)">
<polygon points="9.5,104.0 18.8,99.0 25.0,94.0 32.6,86.5 41.4,81.5 45.0,72.8 49.0,67.7 57.7,64.0 65.7,57.7 69.0,50.0 67.7,44.0 71.5,37.6 80.3,35.0 85.0,34.5 89.4,31.8 89.9,29.6 92.6,26.4 94.3,23.6 96.5,24.7 98.6,20.9 100.8,19.8 101.4,22.0 103.0,26.4 104.1,29.1 107.9,31.3 110.1,33.4 110.1,35.6 111.7,38.4 115.5,38.9 121.0,38.4 127.5,37.8 129.7,39.4 134.1,42.2 138.4,44.9 141.7,48.7 150.2,51.4 152.7,57.6 159.0,58.9 162.7,66.4 165.2,73.9 169.0,79.0 175.3,80.2 182.8,82.7 190.0,78.0 196.0,77.0 199.0,85.0 205.0,88.0 210.0,94.0 215.0,89.0 223.0,91.0 225.5,95.0 226.8,99.5 229.5,103.2 231.4,106.8 235.9,105.9 238.6,109.5 243.2,109.5 247.7,110.9 252.3,112.7 253.2,117.7 258.0,125.0 265.0,131.0 267.0,135.0 265.0,139.0 259.0,141.0 260.0,144.0 266.0,144.0 270.0,148.0 274.0,146.0 278.0,140.0 281.0,130.0 282.0,120.0 284.0,113.0 290.0,106.0 294.0,98.0 290.0,92.0 287.0,86.0 282.0,81.0 276.0,79.0 273.5,75.0 274.0,71.4 279.0,67.7 286.5,66.4 291.5,61.4 295.3,53.9 301.5,50.0 304.0,55.0 309.0,61.4 316.6,65.0 320.4,69.0 325.4,65.0 330.4,60.0 335.2,53.4 341.0,53.0 346.5,57.6 353.0,55.0 362.6,52.6 370.0,51.4 375.2,53.9 376.4,60.0 373.9,66.4 376.4,72.7 379.0,79.0 387.7,80.2 395.2,82.9 399.8,83.5 402.4,78.3 403.7,73.1 407.6,70.5 411.6,72.4 414.2,77.0 416.1,80.9 418.1,82.9 416.1,86.1 414.2,90.1 412.9,95.3 409.6,100.5 407.6,105.8 409.6,110.3 414.2,112.3 418.1,112.9 420.1,117.5 424.0,120.1 429.2,122.7 431.8,125.4 430.5,130.6 426.6,133.2 422.0,135.8 422.7,141.0 424.6,143.7 430.5,141.0 435.8,139.1 442.3,139.7 447.0,138.8 459.7,140.0 469.7,143.8 468.4,150.0 479.7,150.0 494.8,150.0 509.8,151.4 513.6,146.3 522.4,147.6 524.9,151.4 521.0,156.4 518.6,162.7 516.0,170.2 508.6,177.7 501.0,184.0 494.8,187.7 484.8,189.0 476.0,191.5 469.7,195.3 468.4,202.8 471.0,210.3 478.5,209.0 484.8,204.0 492.3,201.5 498.6,204.0 502.3,211.6 512.4,216.3 523.6,220.0 531.2,222.6 537.4,230.0 542.5,237.6 537.4,245.2 530.0,249.0 522.4,250.2 516.0,254.0 509.8,255.2 503.6,260.2 494.8,259.0 488.5,264.0 484.8,271.5 478.5,275.3 471.0,277.8 466.0,274.0 464.7,266.5 458.4,261.5 457.2,252.7 454.6,245.2 453.4,237.6 458.4,231.4 459.7,225.0 457.2,219.0 449.6,214.0 444.6,207.8 440.9,201.5 430.8,201.5 428.3,197.8 425.8,189.0 419.5,182.7 412.0,177.7 405.3,175.0 395.0,175.0 384.0,177.8 375.0,181.5 370.0,186.5 363.0,185.3 351.7,187.8 347.9,192.8 345.4,199.0 340.4,196.5 332.9,190.3 329.0,194.0 340.4,202.8 335.3,204.0 326.6,200.3 320.3,202.8 315.3,209.0 309.0,215.4 305.2,209.0 296.4,206.6 287.7,206.6 282.7,210.4 276.7,211.2 272.9,208.8 266.5,207.6 264.0,209.3 260.4,213.0 259.2,218.0 250.0,220.0 243.6,223.3 240.0,224.4 236.0,227.0 229.0,225.0 218.0,228.0 212.0,234.0 205.0,237.0 202.0,240.0 196.0,243.0 182.0,244.0 175.3,243.8 169.0,238.8 164.0,237.5 159.0,241.3 155.0,246.3 150.0,243.8 143.9,241.3 138.9,243.8 135.0,251.3 127.6,255.0 118.8,256.3 117.2,258.4 115.6,257.6 114.6,260.6 112.6,260.2 112.0,262.8 109.6,262.6 109.0,265.6 106.6,266.2 105.0,270.0 102.6,272.0 100.4,277.7 96.6,267.6 91.6,257.6 87.8,247.6 85.9,240.0 86.8,234.5 87.3,231.4 85.0,228.2 83.2,223.6 80.5,217.3 77.7,212.7 70.0,200.0 62.6,187.6 56.3,178.9 55.0,182.6 51.3,180.0 48.8,175.0 41.4,162.8 33.9,151.5 27.6,139.0 21.3,125.0 15.0,113.9" fill="#B08EC0"/>
<polygon points="110.6,37.8 106.8,38.9 104.1,41.6 101.4,44.3 99.2,46.0 96.6,50.0 91.6,59.0 82.3,65.7 85.3,72.8 89.0,80.0 94.0,86.5 96.6,94.0 96.6,103.0 94.0,110.0 91.6,112.6 93.3,124.0 95.3,127.0 100.0,128.0 104.0,124.0 108.0,119.0 115.0,113.5 120.0,116.0 125.0,116.5 130.0,114.0 137.6,108.0 146.4,109.0 154.0,112.8 160.2,107.8 165.2,102.8 171.5,95.3 167.7,89.0 162.7,84.0 169.0,79.0 172.0,70.0 160.0,40.0 120.0,18.0 110.6,18.0" fill="#CAB4DC" stroke="#CAB4DC" stroke-width="0.3"/>
<polygon points="89.9,92.6 93.5,93.4 99.8,97.1 112.4,99.6 125.1,101.6 134.0,106.1 143.1,111.6 148.4,116.0 157.3,118.5 151.4,131.5 91.9,136.5" fill="#B08EC0" stroke="#B08EC0" stroke-width="0.3"/>
<polygon points="90.9,86.1 101.6,91.6 116.1,93.4 126.9,95.2 139.5,102.6 150.4,109.6 153.9,113.3 148.4,116.0 143.1,111.6 134.0,106.1 125.1,101.6 112.4,99.6 99.8,97.1 93.5,93.4" fill="#DAC8E9" stroke="#DAC8E9" stroke-width="0.3"/>
<polygon points="118.7,78.1 126.9,75.3 139.5,76.2 152.1,78.1 161.1,84.3 168.2,88.6 173.2,96.6 167.3,104.6 159.3,109.6 153.9,113.3 150.4,109.6 143.1,100.6 132.2,94.1 123.2,90.6 118.7,84.3" fill="#B08EC0" stroke="#B08EC0" stroke-width="0.3"/>
<polygon points="0.0,15.0 110.6,15.0 110.6,37.8 106.8,38.9 104.1,41.6 101.4,44.3 99.2,46.0 96.6,50.0 91.6,59.0 82.3,65.7 85.3,72.8 89.0,80.0 94.0,86.5 96.6,94.0 96.6,103.0 94.0,110.0 91.6,112.6 93.3,124.0 95.3,127.0 91.6,126.4 85.3,130.0 80.3,137.7 72.8,144.0 70.2,152.8 65.2,160.0 57.7,166.6 51.4,170.0 40.0,178.0 0.0,178.0" fill="#CAB4DC" stroke="#CAB4DC" stroke-width="0.3"/>
<polygon points="30.0,15.0 110.6,15.0 110.6,37.8 106.8,38.9 104.1,41.6 101.4,44.3 99.2,46.0 96.6,50.0 91.6,59.0 82.3,65.7 85.3,72.8 89.0,80.0 94.0,86.5 96.6,94.0 96.8,96.5 93.0,100.0 85.0,97.0 74.4,93.4 64.4,87.8 58.8,79.5 47.4,72.0 30.0,65.0" fill="#EADCF5" stroke="#EADCF5" stroke-width="0.3"/>
<polygon points="95.3,127.0 100.0,128.0 104.0,124.0 108.0,119.0 115.0,113.5 120.0,116.0 125.0,116.5 130.0,114.0 137.6,108.0 146.4,109.0 154.0,112.8 151.4,119.0 152.7,127.9 150.0,135.0 148.2,144.5 146.7,151.3 149.1,156.6 139.2,150.4 131.7,152.8 126.8,157.9 119.3,160.4 111.7,159.1 106.8,155.4 101.8,146.6 99.4,136.5 97.1,127.9" fill="#926AA4" stroke="#926AA4" stroke-width="0.3"/>
<polygon points="154.0,112.8 160.0,111.6 169.0,112.8 174.0,116.0 176.4,125.0 178.0,131.0 186.0,134.0 197.0,137.5 203.6,136.4 198.0,143.6 198.0,152.7 197.3,161.8 199.0,171.0 202.7,180.0 207.3,186.4 207.0,191.5 196.0,192.0 180.0,193.5 180.0,193.5 180.0,189.0 177.0,181.0 173.0,174.0 167.0,168.0 162.0,161.0 155.0,159.0 148.0,156.0 146.7,151.3 146.7,151.3 148.2,144.5 150.0,135.0 152.7,127.9 151.4,119.0 154.0,112.8" fill="#754C8B" stroke="#754C8B" stroke-width="0.3"/>
<polygon points="231.4,100.0 231.4,107.3 229.5,112.7 226.8,116.4 222.7,118.6 221.8,122.3 224.0,126.4 223.2,129.5 224.5,134.0 226.4,138.6 230.0,142.0 240.6,144.4 250.6,147.4 258.5,152.4 266.4,154.4 270.4,150.4 269.4,146.4 268.0,100.0" fill="#CAB4DC" stroke="#CAB4DC" stroke-width="0.3"/>
<polygon points="218.6,145.5 221.0,142.7 224.5,140.5 226.4,138.6 230.0,142.0 235.7,154.4 242.6,162.4 248.6,170.4 250.6,180.3 246.6,184.3 243.6,190.0 234.5,188.0 225.5,184.5 216.4,182.0 219.0,178.0 221.0,171.0 220.0,162.0 221.0,151.0" fill="#926AA4" stroke="#926AA4" stroke-width="0.3"/>
<polygon points="203.6,136.4 210.0,135.5 213.0,135.5 215.5,140.0 219.0,145.5 221.0,151.0 220.0,162.0 221.0,171.0 219.0,178.0 216.4,182.0 212.0,182.7 207.3,186.4 202.7,180.0 199.0,171.0 197.3,162.0 198.0,152.7 198.0,143.6" fill="#754C8B" stroke="#754C8B" stroke-width="0.3"/>
<polygon points="272.0,40.0 272.0,80.0 290.0,100.0 283.0,120.0 268.9,148.9 290.0,160.0 320.0,160.0 340.0,215.0 440.0,300.0 550.0,300.0 550.0,40.0" fill="#EADCF5" stroke="#EADCF5" stroke-width="0.3"/>
<polygon points="268.9,148.9 279.9,138.0 292.9,134.7 309.1,134.7 325.4,134.7 330.3,138.0 341.6,133.1 354.6,131.5 364.3,133.1 366.0,144.4 364.3,154.2 357.9,159.4 349.7,161.9 345.8,166.4 343.8,174.4 342.8,184.3 346.8,192.3 349.7,198.3 351.7,212.2 300.1,226.2 288.2,216.2 287.7,206.6 289.0,200.3 294.0,196.6 296.4,190.3 294.0,184.0 286.4,179.0 281.4,172.7 271.0,172.2 270.0,171.5 267.6,164.0 263.8,156.4" fill="#CAB4DC" stroke="#CAB4DC" stroke-width="0.3"/>
<polygon points="289.2,202.3 296.2,198.3 306.1,197.3 316.0,202.3 320.0,206.2 322.0,216.2 308.1,222.2 288.2,218.2" fill="#B08EC0" stroke="#B08EC0" stroke-width="0.3"/>
<polygon points="254.9,180.3 263.0,175.6 276.0,173.1 284.1,177.3 290.6,185.3 295.5,190.3 290.6,196.9 284.1,200.1 276.0,196.9 269.4,190.3 259.8,190.3 253.2,187.0" fill="#EADCF5" stroke="#EADCF5" stroke-width="0.3"/>
<polygon points="269.4,190.3 276.0,196.9 284.1,200.1 286.3,206.2 280.3,210.2 270.4,208.2 266.4,201.3 264.4,194.3" fill="#CAB4DC" stroke="#CAB4DC" stroke-width="0.3"/>
<polygon points="170.2,197.3 181.1,194.3 197.0,192.3 206.9,191.3 208.9,197.3 210.9,201.3 206.9,203.3 206.9,209.2 197.0,210.2 189.1,207.2 181.1,209.2 169.2,209.2" fill="#926AA4" stroke="#926AA4" stroke-width="0.3"/>
<polygon points="206.9,203.3 218.8,202.3 218.8,223.2 210.9,223.2 206.9,217.2" fill="#CAB4DC" stroke="#CAB4DC" stroke-width="0.3"/>
<polygon points="218.8,203.3 228.7,204.3 229.1,223.2 218.8,223.2" fill="#926AA4" stroke="#926AA4" stroke-width="0.3"/>
<polygon points="123.1,218.2 128.9,209.2 139.0,202.3 141.9,192.0 150.4,186.3 157.7,178.9 163.5,168.9 161.8,161.4 167.0,168.0 173.0,174.0 177.0,181.0 180.0,189.0 180.0,193.5 169.0,197.0 168.0,208.0 165.0,212.0 166.0,222.0 174.0,230.0 175.0,234.0 170.0,238.0 174.0,244.0 172.2,237.2 157.7,238.4 140.5,239.8 126.0,235.6 123.1,226.8" fill="#926AA4" stroke="#926AA4" stroke-width="0.3"/>
<polygon points="104.3,252.9 114.4,244.1 128.9,241.3 140.5,241.3 138.5,250.1 127.6,256.6 115.7,262.1 105.8,265.1" fill="#EADCF5" stroke="#EADCF5" stroke-width="0.3"/>
<polygon points="101.4,187.7 111.5,183.3 121.6,180.3 123.1,192.0 120.1,202.3 111.5,203.7 104.3,197.8" fill="#926AA4" stroke="#926AA4" stroke-width="0.3"/>
<polygon points="85.5,213.7 98.5,209.4 111.5,207.9 118.7,212.2 110.1,221.0 98.5,225.4 92.9,229.7 85.5,223.9" fill="#926AA4" stroke="#926AA4" stroke-width="0.3"/>
<polyline points="47.4,72.0 58.8,79.5 64.4,87.8 74.4,93.4 85.0,97.0 93.0,100.0 96.8,96.5" fill="none" stroke="#4b3560" stroke-opacity="0.28" stroke-width="0.55" stroke-linejoin="round"/>
<polyline points="15.0,113.6 36.8,115.3 53.5,113.6 60.2,120.3 72.0,118.7 83.6,115.3 92.0,120.3" fill="none" stroke="#4b3560" stroke-opacity="0.28" stroke-width="0.55" stroke-linejoin="round"/>
<polyline points="93.3,124.0 91.6,126.4 85.3,130.0 80.3,137.7 72.8,144.0 70.2,152.8 65.2,160.0 57.7,166.6 51.4,170.0" fill="none" stroke="#4b3560" stroke-opacity="0.28" stroke-width="0.55" stroke-linejoin="round"/>
<polyline points="90.9,86.1 101.6,91.6 116.1,93.4 126.9,95.2 139.5,102.6 150.4,109.6 153.9,113.3" fill="none" stroke="#4b3560" stroke-opacity="0.28" stroke-width="0.55" stroke-linejoin="round"/>
<polyline points="93.5,93.4 99.8,97.1 112.4,99.6 125.1,101.6 134.0,106.1 143.1,111.6 148.4,116.0" fill="none" stroke="#4b3560" stroke-opacity="0.28" stroke-width="0.55" stroke-linejoin="round"/>
<polyline points="123.2,90.6 118.7,84.3 118.7,78.1 126.9,75.3 139.5,76.2 152.1,78.1 161.1,84.3 168.2,88.6" fill="none" stroke="#4b3560" stroke-opacity="0.28" stroke-width="0.55" stroke-linejoin="round"/>
<polyline points="118.7,41.7 117.0,63.5 113.7,80.2" fill="none" stroke="#4b3560" stroke-opacity="0.28" stroke-width="0.55" stroke-linejoin="round"/>
<polyline points="132.0,43.4 127.0,63.5 121.0,78.0" fill="none" stroke="#4b3560" stroke-opacity="0.28" stroke-width="0.55" stroke-linejoin="round"/>
<polyline points="149.1,156.6 139.2,150.4 131.7,152.8 126.8,157.9 119.3,160.4 111.7,159.1 106.8,155.4 101.8,146.6 99.4,136.5 97.1,127.9" fill="none" stroke="#4b3560" stroke-opacity="0.28" stroke-width="0.55" stroke-linejoin="round"/>
<polyline points="154.0,112.8 160.0,111.6 169.0,112.8 174.0,116.0 176.4,125.0 174.0,137.6 172.0,141.0" fill="none" stroke="#4b3560" stroke-opacity="0.28" stroke-width="0.55" stroke-linejoin="round"/>
<polyline points="170.0,139.0 174.0,137.0 180.0,140.0 188.0,147.0 195.5,154.0 197.0,159.0" fill="none" stroke="#4b3560" stroke-opacity="0.28" stroke-width="0.55" stroke-linejoin="round"/>
<polyline points="173.0,144.0 181.0,152.5 189.0,159.0 195.0,162.0" fill="none" stroke="#4b3560" stroke-opacity="0.28" stroke-width="0.55" stroke-linejoin="round"/>
<polyline points="176.4,125.0 178.0,131.0 186.0,134.0 197.0,137.5 203.6,136.4" fill="none" stroke="#4b3560" stroke-opacity="0.28" stroke-width="0.55" stroke-linejoin="round"/>
<polyline points="164.0,167.5 160.0,172.0 155.0,176.0 154.0,185.0 144.0,187.0 140.0,191.0 140.0,202.0 142.0,208.0 152.0,210.0 165.0,210.0" fill="none" stroke="#4b3560" stroke-opacity="0.28" stroke-width="0.55" stroke-linejoin="round"/>
<polyline points="123.1,218.2 128.9,209.2 139.0,202.3 141.9,192.0 150.4,186.3 157.7,178.9 163.5,168.9 161.8,161.4" fill="none" stroke="#4b3560" stroke-opacity="0.28" stroke-width="0.55" stroke-linejoin="round"/>
<polyline points="99.5,223.0 110.0,225.0 122.8,226.5 121.6,237.8 135.4,241.6 148.0,237.8 160.0,238.0 170.0,238.0" fill="none" stroke="#4b3560" stroke-opacity="0.28" stroke-width="0.55" stroke-linejoin="round"/>
<polyline points="226.4,138.6 230.0,142.0 240.6,144.4 250.6,147.4 258.5,152.4 266.4,154.4 270.4,150.4" fill="none" stroke="#4b3560" stroke-opacity="0.28" stroke-width="0.55" stroke-linejoin="round"/>
<polyline points="230.0,142.0 235.7,154.4 242.6,162.4 248.6,170.4 250.6,180.3 246.6,184.3" fill="none" stroke="#4b3560" stroke-opacity="0.28" stroke-width="0.55" stroke-linejoin="round"/>
<polyline points="268.9,148.9 263.8,156.4 267.6,164.0 270.0,171.5" fill="none" stroke="#4b3560" stroke-opacity="0.28" stroke-width="0.55" stroke-linejoin="round"/>
<polyline points="319.0,71.4 324.0,79.0 331.6,82.7 340.4,86.5 347.6,92.8 357.6,94.0 368.9,92.8" fill="none" stroke="#4b3560" stroke-opacity="0.28" stroke-width="0.55" stroke-linejoin="round"/>
<polyline points="350.0,130.0 354.0,133.0 360.0,132.0 366.0,131.0 372.0,130.0 378.0,130.0 384.0,133.0 392.0,135.0 397.0,138.0 398.0,144.0 396.0,150.0 392.0,154.0 390.0,158.0" fill="none" stroke="#4b3560" stroke-opacity="0.28" stroke-width="0.55" stroke-linejoin="round"/>
<polyline points="330.0,137.0 327.0,142.0 329.0,148.0 334.0,154.0 338.0,160.0 340.0,166.0 341.0,169.0" fill="none" stroke="#4b3560" stroke-opacity="0.28" stroke-width="0.55" stroke-linejoin="round"/>
<polyline points="364.3,133.1 366.0,144.4 364.3,154.2 357.9,159.4 349.7,161.9 345.8,166.4" fill="none" stroke="#4b3560" stroke-opacity="0.28" stroke-width="0.55" stroke-linejoin="round"/>
<polyline points="268.9,148.9 279.9,138.0 292.9,134.7 309.1,134.7 325.4,134.7 330.3,138.0" fill="none" stroke="#4b3560" stroke-opacity="0.28" stroke-width="0.55" stroke-linejoin="round"/>
<polyline points="254.9,180.3 263.0,175.6 276.0,173.1 284.1,177.3 290.6,185.3 295.5,190.3 290.6,196.9 284.1,200.1 276.0,196.9 269.4,190.3 259.8,190.3 253.2,187.0 254.9,180.3" fill="none" stroke="#4b3560" stroke-opacity="0.28" stroke-width="0.55" stroke-linejoin="round"/>
<polyline points="341.0,169.0 341.5,180.0 341.0,200.0" fill="none" stroke="#4b3560" stroke-opacity="0.28" stroke-width="0.55" stroke-linejoin="round"/>
<polyline points="343.8,174.4 342.8,184.3 346.8,192.3 349.7,198.3" fill="none" stroke="#4b3560" stroke-opacity="0.28" stroke-width="0.55" stroke-linejoin="round"/>
<polyline points="289.2,202.3 296.2,198.3 306.1,197.3 316.0,202.3 320.0,206.2" fill="none" stroke="#4b3560" stroke-opacity="0.28" stroke-width="0.55" stroke-linejoin="round"/>
<polyline points="430.8,182.7 437.0,175.2 457.2,166.4 469.7,170.2 487.3,165.2 507.3,160.0 514.9,152.6" fill="none" stroke="#4b3560" stroke-opacity="0.28" stroke-width="0.55" stroke-linejoin="round"/>
<polyline points="449.6,210.3 458.4,215.3 464.7,219.1" fill="none" stroke="#4b3560" stroke-opacity="0.28" stroke-width="0.55" stroke-linejoin="round"/>
<polyline points="465.9,207.8 465.9,217.8" fill="none" stroke="#4b3560" stroke-opacity="0.28" stroke-width="0.55" stroke-linejoin="round"/>
<polyline points="380.4,100.2 393.8,103.6 403.8,110.3" fill="none" stroke="#4b3560" stroke-opacity="0.28" stroke-width="0.55" stroke-linejoin="round"/>
<polyline points="387.0,73.5 393.8,90.2 400.5,100.2" fill="none" stroke="#4b3560" stroke-opacity="0.28" stroke-width="0.55" stroke-linejoin="round"/>
<polyline points="345.3,140.4 360.3,130.3 367.0,140.4 360.3,153.7" fill="none" stroke="#4b3560" stroke-opacity="0.28" stroke-width="0.55" stroke-linejoin="round"/>
<polyline points="393.8,137.0 397.0,147.0" fill="none" stroke="#4b3560" stroke-opacity="0.28" stroke-width="0.55" stroke-linejoin="round"/>
<polyline points="207.0,191.0 208.0,196.0 214.0,201.0" fill="none" stroke="#4b3560" stroke-opacity="0.28" stroke-width="0.55" stroke-linejoin="round"/>
<polyline points="234.5,188.0 235.5,197.3 232.0,203.0" fill="none" stroke="#4b3560" stroke-opacity="0.28" stroke-width="0.55" stroke-linejoin="round"/>
<polyline points="170.2,197.3 169.2,209.2 181.1,209.2 189.1,207.2 197.0,210.2 206.9,209.2 206.9,203.3 218.8,202.3 228.7,204.3" fill="none" stroke="#4b3560" stroke-opacity="0.28" stroke-width="0.55" stroke-linejoin="round"/>
<polyline points="218.8,203.3 218.8,223.2" fill="none" stroke="#4b3560" stroke-opacity="0.28" stroke-width="0.55" stroke-linejoin="round"/>
<polyline points="206.9,209.2 206.9,217.2 210.9,223.2 229.1,223.2" fill="none" stroke="#4b3560" stroke-opacity="0.28" stroke-width="0.55" stroke-linejoin="round"/>
<polyline points="101.4,187.7 111.5,183.3 121.6,180.3 123.1,192.0 120.1,202.3 111.5,203.7 104.3,197.8 101.4,187.7" fill="none" stroke="#4b3560" stroke-opacity="0.28" stroke-width="0.55" stroke-linejoin="round"/>
<polyline points="85.5,213.7 98.5,209.4 111.5,207.9 118.7,212.2 110.1,221.0 98.5,225.4 92.9,229.7" fill="none" stroke="#4b3560" stroke-opacity="0.28" stroke-width="0.55" stroke-linejoin="round"/>
<polyline points="104.3,252.9 114.4,244.1 128.9,241.3 140.5,241.3" fill="none" stroke="#4b3560" stroke-opacity="0.28" stroke-width="0.55" stroke-linejoin="round"/>
</g>
<polyline points="110.6,37.8 106.8,38.9 104.1,41.6 101.4,44.3 99.2,46.0 96.6,50.0 91.6,59.0 82.3,65.7 85.3,72.8 89.0,80.0 94.0,86.5 96.6,94.0 96.6,103.0 94.0,110.0 91.6,112.6 93.3,124.0 95.3,127.0 100.0,128.0 104.0,124.0 108.0,119.0 115.0,113.5 120.0,116.0 125.0,116.5 130.0,114.0 137.6,108.0 146.4,109.0 154.0,112.8" fill="none" stroke="#3c3c3c" stroke-width="0.85" stroke-linejoin="round"/>
<polyline points="169.0,79.0 162.7,84.0 167.7,89.0 171.5,95.3 165.2,102.8 160.2,107.8 154.0,112.8" fill="none" stroke="#3c3c3c" stroke-width="0.85" stroke-linejoin="round"/>
<polyline points="154.0,112.8 151.4,119.0 152.7,127.9 150.0,135.0 148.2,144.5 146.7,151.3" fill="none" stroke="#3c3c3c" stroke-width="0.85" stroke-linejoin="round"/>
<polyline points="87.3,233.6 91.8,231.4 94.5,229.5 94.0,226.8 97.7,225.5 99.5,222.7 106.0,218.0 113.0,212.0 119.0,205.0 123.0,197.0 123.0,188.0 122.0,178.0 123.0,169.0 126.0,161.0 130.0,155.0 138.0,152.0 146.7,151.3" fill="none" stroke="#3c3c3c" stroke-width="0.85" stroke-linejoin="round"/>
<polyline points="146.7,151.3 148.0,156.0 155.0,159.0 162.0,161.0 167.0,168.0 173.0,174.0 177.0,181.0 180.0,189.0 180.0,193.5" fill="none" stroke="#3c3c3c" stroke-width="0.85" stroke-linejoin="round"/>
<polyline points="169.0,197.0 180.0,194.0 196.0,192.0 206.0,191.0 208.0,196.0 214.0,201.0 228.0,203.0 229.0,210.0 230.0,225.0" fill="none" stroke="#3c3c3c" stroke-width="0.85" stroke-linejoin="round"/>
<polyline points="169.0,197.0 168.0,208.0 165.0,212.0 166.0,222.0 174.0,230.0 175.0,234.0 170.0,238.0 174.0,244.0" fill="none" stroke="#3c3c3c" stroke-width="0.85" stroke-linejoin="round"/>
<polyline points="231.4,107.3 229.5,112.7 226.8,116.4 222.7,118.6 221.8,122.3 224.0,126.4 223.2,129.5 224.5,134.0 226.4,138.6 224.5,140.5 221.0,142.7 218.6,145.5 215.5,140.0 212.7,135.5 210.0,135.5 203.6,136.4 198.0,143.6 198.0,152.7 197.3,161.8 199.0,171.0 202.7,180.0 207.3,186.4 207.0,191.0" fill="none" stroke="#3c3c3c" stroke-width="0.85" stroke-linejoin="round"/>
<polyline points="207.3,186.4 211.8,182.7 219.0,181.8 225.5,184.5 234.5,188.0 243.6,190.0 251.0,185.5 256.4,181.8 263.6,176.4 271.0,172.2 281.4,172.7 286.4,179.0 294.0,184.0 296.4,190.3 294.0,196.6 289.0,200.3 287.7,206.6" fill="none" stroke="#3c3c3c" stroke-width="0.85" stroke-linejoin="round"/>
<polyline points="296.4,190.3 304.0,182.8 310.0,175.0 316.0,172.0 324.0,168.0 325.0,160.0 322.0,150.0 327.0,143.0 330.0,137.0" fill="none" stroke="#3c3c3c" stroke-width="0.85" stroke-linejoin="round"/>
<polyline points="330.0,137.0 336.0,135.0 343.0,133.0 350.0,130.0 357.0,127.0 360.0,120.0 364.0,114.0 370.0,108.0 370.0,100.0 368.9,92.8 372.6,85.2 379.0,79.0" fill="none" stroke="#3c3c3c" stroke-width="0.85" stroke-linejoin="round"/>
<polyline points="324.0,168.0 333.0,168.5 341.0,169.0 347.0,165.0 353.0,166.0 362.0,167.0 370.0,168.0" fill="none" stroke="#3c3c3c" stroke-width="0.85" stroke-linejoin="round"/>
<polyline points="370.0,168.0 369.0,174.0 370.0,182.0 370.0,186.5" fill="none" stroke="#3c3c3c" stroke-width="0.85" stroke-linejoin="round"/>
<polyline points="370.0,168.0 372.0,169.5 375.0,165.5 384.0,166.5 390.2,162.7 392.7,157.7 399.0,159.0 407.8,153.9 417.8,148.9 424.6,143.7" fill="none" stroke="#3c3c3c" stroke-width="0.85" stroke-linejoin="round"/>
<polygon points="9.5,104.0 18.8,99.0 25.0,94.0 32.6,86.5 41.4,81.5 45.0,72.8 49.0,67.7 57.7,64.0 65.7,57.7 69.0,50.0 67.7,44.0 71.5,37.6 80.3,35.0 85.0,34.5 89.4,31.8 89.9,29.6 92.6,26.4 94.3,23.6 96.5,24.7 98.6,20.9 100.8,19.8 101.4,22.0 103.0,26.4 104.1,29.1 107.9,31.3 110.1,33.4 110.1,35.6 111.7,38.4 115.5,38.9 121.0,38.4 127.5,37.8 129.7,39.4 134.1,42.2 138.4,44.9 141.7,48.7 150.2,51.4 152.7,57.6 159.0,58.9 162.7,66.4 165.2,73.9 169.0,79.0 175.3,80.2 182.8,82.7 190.0,78.0 196.0,77.0 199.0,85.0 205.0,88.0 210.0,94.0 215.0,89.0 223.0,91.0 225.5,95.0 226.8,99.5 229.5,103.2 231.4,106.8 235.9,105.9 238.6,109.5 243.2,109.5 247.7,110.9 252.3,112.7 253.2,117.7 258.0,125.0 265.0,131.0 267.0,135.0 265.0,139.0 259.0,141.0 260.0,144.0 266.0,144.0 270.0,148.0 274.0,146.0 278.0,140.0 281.0,130.0 282.0,120.0 284.0,113.0 290.0,106.0 294.0,98.0 290.0,92.0 287.0,86.0 282.0,81.0 276.0,79.0 273.5,75.0 274.0,71.4 279.0,67.7 286.5,66.4 291.5,61.4 295.3,53.9 301.5,50.0 304.0,55.0 309.0,61.4 316.6,65.0 320.4,69.0 325.4,65.0 330.4,60.0 335.2,53.4 341.0,53.0 346.5,57.6 353.0,55.0 362.6,52.6 370.0,51.4 375.2,53.9 376.4,60.0 373.9,66.4 376.4,72.7 379.0,79.0 387.7,80.2 395.2,82.9 399.8,83.5 402.4,78.3 403.7,73.1 407.6,70.5 411.6,72.4 414.2,77.0 416.1,80.9 418.1,82.9 416.1,86.1 414.2,90.1 412.9,95.3 409.6,100.5 407.6,105.8 409.6,110.3 414.2,112.3 418.1,112.9 420.1,117.5 424.0,120.1 429.2,122.7 431.8,125.4 430.5,130.6 426.6,133.2 422.0,135.8 422.7,141.0 424.6,143.7 430.5,141.0 435.8,139.1 442.3,139.7 447.0,138.8 459.7,140.0 469.7,143.8 468.4,150.0 479.7,150.0 494.8,150.0 509.8,151.4 513.6,146.3 522.4,147.6 524.9,151.4 521.0,156.4 518.6,162.7 516.0,170.2 508.6,177.7 501.0,184.0 494.8,187.7 484.8,189.0 476.0,191.5 469.7,195.3 468.4,202.8 471.0,210.3 478.5,209.0 484.8,204.0 492.3,201.5 498.6,204.0 502.3,211.6 512.4,216.3 523.6,220.0 531.2,222.6 537.4,230.0 542.5,237.6 537.4,245.2 530.0,249.0 522.4,250.2 516.0,254.0 509.8,255.2 503.6,260.2 494.8,259.0 488.5,264.0 484.8,271.5 478.5,275.3 471.0,277.8 466.0,274.0 464.7,266.5 458.4,261.5 457.2,252.7 454.6,245.2 453.4,237.6 458.4,231.4 459.7,225.0 457.2,219.0 449.6,214.0 444.6,207.8 440.9,201.5 430.8,201.5 428.3,197.8 425.8,189.0 419.5,182.7 412.0,177.7 405.3,175.0 395.0,175.0 384.0,177.8 375.0,181.5 370.0,186.5 363.0,185.3 351.7,187.8 347.9,192.8 345.4,199.0 340.4,196.5 332.9,190.3 329.0,194.0 340.4,202.8 335.3,204.0 326.6,200.3 320.3,202.8 315.3,209.0 309.0,215.4 305.2,209.0 296.4,206.6 287.7,206.6 282.7,210.4 276.7,211.2 272.9,208.8 266.5,207.6 264.0,209.3 260.4,213.0 259.2,218.0 250.0,220.0 243.6,223.3 240.0,224.4 236.0,227.0 229.0,225.0 218.0,228.0 212.0,234.0 205.0,237.0 202.0,240.0 196.0,243.0 182.0,244.0 175.3,243.8 169.0,238.8 164.0,237.5 159.0,241.3 155.0,246.3 150.0,243.8 143.9,241.3 138.9,243.8 135.0,251.3 127.6,255.0 118.8,256.3 117.2,258.4 115.6,257.6 114.6,260.6 112.6,260.2 112.0,262.8 109.6,262.6 109.0,265.6 106.6,266.2 105.0,270.0 102.6,272.0 100.4,277.7 96.6,267.6 91.6,257.6 87.8,247.6 85.9,240.0 86.8,234.5 87.3,231.4 85.0,228.2 83.2,223.6 80.5,217.3 77.7,212.7 70.0,200.0 62.6,187.6 56.3,178.9 55.0,182.6 51.3,180.0 48.8,175.0 41.4,162.8 33.9,151.5 27.6,139.0 21.3,125.0 15.0,113.9" fill="none" stroke="#2b2b2b" stroke-width="1" stroke-linejoin="round"/>
<ellipse cx="97.4" cy="262.0" rx="1.5" ry="2.6" fill="#fff" stroke="#2b2b2b" stroke-width="0.8" transform="rotate(-15 97.4 262.0)"/>
<polyline points="110.1,34.2 114.4,33.3 117.7,31.9 120.0,30.9 123.5,30.8 127.0,31.9" fill="none" stroke="#2b2b2b" stroke-width="1.3" stroke-linejoin="round" stroke-linecap="round"/>
<polyline points="117.2,33.6 119.9,36.0 116.4,34.9 112.3,34.6" fill="none" stroke="#2b2b2b" stroke-width="1.3" stroke-linejoin="round" stroke-linecap="round"/>
<polyline points="103.0,26.4 105.3,23.8 104.6,26.4 106.8,25.2" fill="none" stroke="#2b2b2b" stroke-width="1.3" stroke-linejoin="round" stroke-linecap="round"/>
<polyline points="98.6,20.9 99.6,18.6" fill="none" stroke="#2b2b2b" stroke-width="1.3" stroke-linejoin="round" stroke-linecap="round"/>
<polyline points="275.2,71.2 274.2,72.4" fill="none" stroke="#2b2b2b" stroke-width="1.3" stroke-linejoin="round" stroke-linecap="round"/>
<polyline points="275.2,76.6 276.4,77.8" fill="none" stroke="#2b2b2b" stroke-width="1.3" stroke-linejoin="round" stroke-linecap="round"/>
<circle cx="71.0" cy="72.3" r="5.5" fill="#0c6af3" stroke="#14357a" stroke-width="0.5"/>
<circle cx="49.7" cy="99.3" r="6.5" fill="#0c6af3" stroke="#14357a" stroke-width="0.5"/>
<circle cx="57.7" cy="138.2" r="5.5" fill="#0c6af3" stroke="#14357a" stroke-width="0.5"/>
<circle cx="137.6" cy="65.9" r="5.5" fill="#0c6af3" stroke="#14357a" stroke-width="0.5"/>
<circle cx="107.5" cy="80.2" r="4.7" fill="#0c6af3" stroke="#14357a" stroke-width="0.5"/>
<circle cx="128.3" cy="81.5" r="3.7" fill="#0c6af3" stroke="#14357a" stroke-width="0.5"/>
<circle cx="132.6" cy="87.7" r="3.2" fill="#0c6af3" stroke="#14357a" stroke-width="0.5"/>
<circle cx="131.0" cy="133.4" r="3.5" fill="#0c6af3" stroke="#14357a" stroke-width="0.5"/>
<circle cx="89.0" cy="178.0" r="6.5" fill="#0c6af3" stroke="#14357a" stroke-width="0.5"/>
<circle cx="94.5" cy="194.4" r="4.5" fill="#0c6af3" stroke="#14357a" stroke-width="0.5"/>
<circle cx="105.8" cy="199.2" r="3.3" fill="#0c6af3" stroke="#14357a" stroke-width="0.5"/>
<circle cx="92.5" cy="205.4" r="4.4" fill="#0c6af3" stroke="#14357a" stroke-width="0.5"/>
<circle cx="115.4" cy="205.3" r="3.3" fill="#0c6af3" stroke="#14357a" stroke-width="0.5"/>
<circle cx="104.3" cy="216.5" r="5.4" fill="#0c6af3" stroke="#14357a" stroke-width="0.5"/>
<circle cx="193.6" cy="111.6" r="3.5" fill="#0c6af3" stroke="#14357a" stroke-width="0.5"/>
<circle cx="161.7" cy="137.3" r="3.5" fill="#0c6af3" stroke="#14357a" stroke-width="0.5"/>
<circle cx="180.6" cy="141.2" r="4.4" fill="#0c6af3" stroke="#14357a" stroke-width="0.5"/>
<circle cx="185.6" cy="147.2" r="4.4" fill="#0c6af3" stroke="#14357a" stroke-width="0.5"/>
<circle cx="136.0" cy="194.4" r="3.3" fill="#0c6af3" stroke="#14357a" stroke-width="0.5"/>
<circle cx="135.0" cy="208.0" r="3.3" fill="#0c6af3" stroke="#14357a" stroke-width="0.5"/>
<circle cx="158.6" cy="185.4" r="3.3" fill="#0c6af3" stroke="#14357a" stroke-width="0.5"/>
<circle cx="120.0" cy="225.0" r="3.3" fill="#0c6af3" stroke="#14357a" stroke-width="0.5"/>
<circle cx="148.0" cy="218.0" r="3.3" fill="#0c6af3" stroke="#14357a" stroke-width="0.5"/>
<circle cx="160.0" cy="218.0" r="5.1" fill="#0c6af3" stroke="#14357a" stroke-width="0.5"/>
<circle cx="164.0" cy="228.3" r="3.3" fill="#0c6af3" stroke="#14357a" stroke-width="0.5"/>
<circle cx="175.0" cy="215.6" r="4.3" fill="#0c6af3" stroke="#14357a" stroke-width="0.5"/>
<circle cx="120.0" cy="245.6" r="4.2" fill="#0c6af3" stroke="#14357a" stroke-width="0.5"/>
<circle cx="124.7" cy="252.0" r="3.2" fill="#0c6af3" stroke="#14357a" stroke-width="0.5"/>
<circle cx="201.0" cy="203.0" r="4.5" fill="#0c6af3" stroke="#14357a" stroke-width="0.5"/>
<circle cx="191.4" cy="207.0" r="3.3" fill="#0c6af3" stroke="#14357a" stroke-width="0.5"/>
<circle cx="195.0" cy="210.0" r="3.3" fill="#0c6af3" stroke="#14357a" stroke-width="0.5"/>
<circle cx="199.0" cy="213.0" r="4.1" fill="#0c6af3" stroke="#14357a" stroke-width="0.5"/>
<circle cx="191.0" cy="213.0" r="2.7" fill="#0c6af3" stroke="#14357a" stroke-width="0.5"/>
<circle cx="217.4" cy="208.6" r="2.5" fill="#0c6af3" stroke="#14357a" stroke-width="0.5"/>
<circle cx="222.0" cy="213.0" r="3.3" fill="#0c6af3" stroke="#14357a" stroke-width="0.5"/>
<circle cx="223.4" cy="218.0" r="3.3" fill="#0c6af3" stroke="#14357a" stroke-width="0.5"/>
<circle cx="223.0" cy="222.4" r="4.1" fill="#0c6af3" stroke="#14357a" stroke-width="0.5"/>
<circle cx="219.0" cy="221.0" r="2.7" fill="#0c6af3" stroke="#14357a" stroke-width="0.5"/>
<circle cx="213.6" cy="220.0" r="3.3" fill="#0c6af3" stroke="#14357a" stroke-width="0.5"/>
<circle cx="204.4" cy="229.6" r="2.5" fill="#0c6af3" stroke="#14357a" stroke-width="0.5"/>
<circle cx="239.5" cy="220.5" r="4.3" fill="#0c6af3" stroke="#14357a" stroke-width="0.5"/>
<circle cx="242.4" cy="208.2" r="2.5" fill="#0c6af3" stroke="#14357a" stroke-width="0.5"/>
<circle cx="248.0" cy="196.0" r="2.7" fill="#0c6af3" stroke="#14357a" stroke-width="0.5"/>
<circle cx="272.8" cy="202.5" r="4.5" fill="#0c6af3" stroke="#14357a" stroke-width="0.5"/>
<circle cx="263.7" cy="176.0" r="3.5" fill="#0c6af3" stroke="#14357a" stroke-width="0.5"/>
<circle cx="250.2" cy="184.2" r="2.5" fill="#0c6af3" stroke="#14357a" stroke-width="0.5"/>
<circle cx="244.2" cy="121.2" r="4.5" fill="#0c6af3" stroke="#14357a" stroke-width="0.5"/>
<circle cx="252.6" cy="136.0" r="2.5" fill="#0c6af3" stroke="#14357a" stroke-width="0.5"/>
<circle cx="258.8" cy="142.6" r="1.7" fill="#0c6af3" stroke="#14357a" stroke-width="0.5"/>
<circle cx="242.8" cy="160.0" r="2.5" fill="#0c6af3" stroke="#14357a" stroke-width="0.5"/>
<circle cx="235.5" cy="178.8" r="3.4" fill="#0c6af3" stroke="#14357a" stroke-width="0.5"/>
<circle cx="325.4" cy="94.0" r="4.5" fill="#0c6af3" stroke="#14357a" stroke-width="0.5"/>
<circle cx="335.9" cy="97.8" r="4.5" fill="#0c6af3" stroke="#14357a" stroke-width="0.5"/>
<circle cx="307.0" cy="101.5" r="3.2" fill="#0c6af3" stroke="#14357a" stroke-width="0.5"/>
<circle cx="302.0" cy="103.5" r="3.2" fill="#0c6af3" stroke="#14357a" stroke-width="0.5"/>
<circle cx="295.3" cy="114.6" r="2.5" fill="#0c6af3" stroke="#14357a" stroke-width="0.5"/>
<circle cx="304.5" cy="117.8" r="2.5" fill="#0c6af3" stroke="#14357a" stroke-width="0.5"/>
<circle cx="312.3" cy="114.0" r="3.5" fill="#0c6af3" stroke="#14357a" stroke-width="0.5"/>
<circle cx="316.6" cy="123.4" r="2.5" fill="#0c6af3" stroke="#14357a" stroke-width="0.5"/>
<circle cx="355.3" cy="70.2" r="3.5" fill="#0c6af3" stroke="#14357a" stroke-width="0.5"/>
<circle cx="293.2" cy="151.9" r="3.5" fill="#0c6af3" stroke="#14357a" stroke-width="0.5"/>
<circle cx="387.0" cy="91.0" r="3.5" fill="#0c6af3" stroke="#14357a" stroke-width="0.5"/>
<circle cx="382.0" cy="96.5" r="4.2" fill="#0c6af3" stroke="#14357a" stroke-width="0.5"/>
<circle cx="392.0" cy="117.3" r="2.5" fill="#0c6af3" stroke="#14357a" stroke-width="0.5"/>
<circle cx="375.6" cy="128.2" r="2.5" fill="#0c6af3" stroke="#14357a" stroke-width="0.5"/>
<circle cx="317.3" cy="188.3" r="4.5" fill="#0c6af3" stroke="#14357a" stroke-width="0.5"/>
<circle cx="348.5" cy="181.0" r="2.5" fill="#0c6af3" stroke="#14357a" stroke-width="0.5"/>
<circle cx="307.2" cy="212.4" r="4.5" fill="#0c6af3" stroke="#14357a" stroke-width="0.5"/>
<circle cx="418.7" cy="162.0" r="3.5" fill="#0c6af3" stroke="#14357a" stroke-width="0.5"/>
<circle cx="456.3" cy="185.3" r="2.5" fill="#0c6af3" stroke="#14357a" stroke-width="0.5"/>
<circle cx="461.7" cy="222.9" r="2.5" fill="#0c6af3" stroke="#14357a" stroke-width="0.5"/>
<text x="101.3" y="84.6" class="lb" textLength="52.6" lengthAdjust="spacingAndGlyphs">Guangming</text>
<text x="69.7" y="147.8" class="lb" textLength="29.3" lengthAdjust="spacingAndGlyphs">Bao&#39;an</text>
<text x="159.0" y="133.6" class="lb" textLength="38.8" lengthAdjust="spacingAndGlyphs">Longhua</text>
<text x="120.3" y="215.3" class="lb" textLength="39.0" lengthAdjust="spacingAndGlyphs">Nanshan</text>
<text x="180.0" y="221.2" class="lb" textLength="27.6" lengthAdjust="spacingAndGlyphs">Futian</text>
<text x="244.5" y="201.4" class="lb" textLength="27.5" lengthAdjust="spacingAndGlyphs">Luohu</text>
<text x="291.4" y="128.8" class="lb" textLength="45.2" lengthAdjust="spacingAndGlyphs">Longgang</text>
<text x="372.1" y="131.1" class="lb" textLength="40.7" lengthAdjust="spacingAndGlyphs">Pingshan</text>
<text x="313.3" y="184.6" class="lb" textLength="32.7" lengthAdjust="spacingAndGlyphs">Yantian</text>
<text x="431.6" y="197.6" class="lb" textLength="34.0" lengthAdjust="spacingAndGlyphs">Dapeng</text>
<g transform="translate(29.0,44.6)">
<polygon points="0,-12.6 2.2,-2.2 11.2,0 2.2,2.2 0,12 -2.2,2.2 -11.6,0 -2.2,-2.2" fill="#fff" stroke="#222" stroke-width="0.45"/>
<polygon points="0,-12.6 2.2,-2.2 0,0" fill="#1a1a1a"/><polygon points="11.2,0 2.2,2.2 0,0" fill="#1a1a1a"/><polygon points="0,12 -2.2,2.2 0,0" fill="#1a1a1a"/><polygon points="-11.6,0 -2.2,-2.2 0,0" fill="#1a1a1a"/>
<circle r="4.7" fill="#fff" stroke="#111" stroke-width="0.95"/><path d="M0,0 L0,-4.7 A4.7,4.7 0 0 1 4.7,0 Z M0,0 L0,4.7 A4.7,4.7 0 0 1 -4.7,0 Z" fill="#1a1a1a"/>
<text class="cp" x="0" y="-13.9" text-anchor="middle">N</text><text class="cp" x="0.2" y="18" text-anchor="middle">S</text><text class="cp" x="-14.8" y="1.7" text-anchor="middle">W</text><text class="cp" x="14.2" y="1.7" text-anchor="middle">E</text>
</g>
<text x="186.1" y="41.6" class="pl2" text-anchor="middle">(b)</text>
<path d="M42.6,301.5 V309.0 H150.7 V301.5 M96.6,304.0 V309.0" fill="none" stroke="#333" stroke-width="0.8"/>
<text class="sb" x="42.6" y="295.7" text-anchor="middle">0</text><text class="sb" x="96.3" y="295.7" text-anchor="middle">10</text><text class="sb" x="144.7" y="295.7">20 km</text>
<text class="lg" x="435.8" y="17.7" textLength="100" lengthAdjust="spacingAndGlyphs">Hospitals (physicians)</text>
<circle cx="444.6" cy="30.9" r="2.5" fill="#0c6af3" stroke="#14357a" stroke-width="0.5"/>
<text class="lg" x="457.8" y="34.3" textLength="27" lengthAdjust="spacingAndGlyphs">≤ 100</text>
<circle cx="444.6" cy="48.0" r="3.4" fill="#0c6af3" stroke="#14357a" stroke-width="0.5"/>
<text class="lg" x="457.8" y="51.3" textLength="44.5" lengthAdjust="spacingAndGlyphs">101 – 300</text>
<circle cx="444.6" cy="64.3" r="4.5" fill="#0c6af3" stroke="#14357a" stroke-width="0.5"/>
<text class="lg" x="457.8" y="68.0" textLength="44.5" lengthAdjust="spacingAndGlyphs">301 – 500</text>
<circle cx="444.6" cy="80.8" r="5.4" fill="#0c6af3" stroke="#14357a" stroke-width="0.5"/>
<text class="lg" x="457.8" y="84.8" textLength="44.5" lengthAdjust="spacingAndGlyphs">501 – 800</text>
<circle cx="444.6" cy="98.2" r="6.6" fill="#0c6af3" stroke="#14357a" stroke-width="0.5"/>
<text class="lg" x="457.8" y="103.0" textLength="50.2" lengthAdjust="spacingAndGlyphs">801 – 1000</text>
<rect x="435.4" y="112.8" width="18.4" height="9.5" fill="#fff" stroke="#444" stroke-width="0.7"/>
<text class="lg" x="457.8" y="121.5" textLength="79.7" lengthAdjust="spacingAndGlyphs">District boundary</text>
<text class="lg" x="317" y="221.0" textLength="125.5" lengthAdjust="spacingAndGlyphs">Accessibility (Multimodal)</text>
<rect x="316.4" y="230.9" width="20" height="9.8" fill="#EADCF5"/>
<text class="lg" x="340" y="239.5" textLength="31" lengthAdjust="spacingAndGlyphs">≤ 1.00</text>
<rect x="316.4" y="248.8" width="20" height="9.8" fill="#CAB4DC"/>
<text class="lg" x="340" y="257.4" textLength="52" lengthAdjust="spacingAndGlyphs">1.01 – 1.10</text>
<rect x="316.4" y="266.5" width="20" height="9.8" fill="#B08EC0"/>
<text class="lg" x="340" y="275.1" textLength="52" lengthAdjust="spacingAndGlyphs">1.11 – 1.20</text>
<rect x="316.4" y="284.3" width="20" height="9.8" fill="#926AA4"/>
<text class="lg" x="340" y="292.9" textLength="52" lengthAdjust="spacingAndGlyphs">1.21 – 1.30</text>
<rect x="316.4" y="301.9" width="20" height="9.8" fill="#754C8B"/>
<text class="lg" x="340" y="310.5" textLength="52" lengthAdjust="spacingAndGlyphs">1.31 – 1.46</text>
<text class="lg" x="312.7" y="330.0" textLength="169.6" lengthAdjust="spacingAndGlyphs">(unit: physicians/thousand person)</text>
</g>
</svg>
</body></html>
